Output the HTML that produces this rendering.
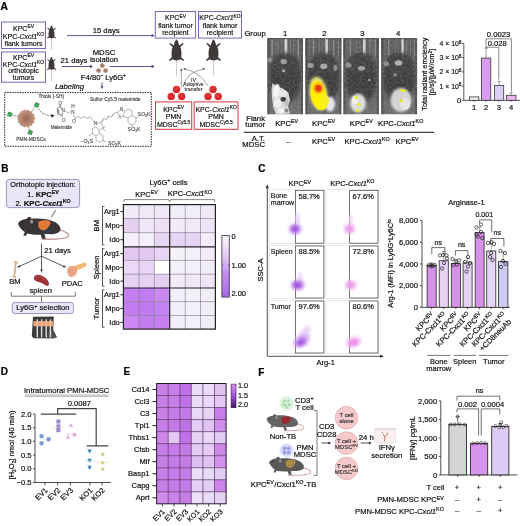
<!DOCTYPE html>
<html><head><meta charset="utf-8"><style>
html,body{margin:0;padding:0;background:#fff;width:520px;height:526px;overflow:hidden}
svg{display:block}
text{font-family:"Liberation Sans",Arial,Helvetica,sans-serif}
text:not([fill]){fill:#111;stroke:#111;stroke-width:0.2px}
</style></head><body>
<svg width="520" height="526" viewBox="0 0 520 526">
<rect width="520" height="526" fill="#fff"/>
<text x="0.5" y="9.6" font-size="10.3" font-weight="bold" fill="#000" stroke="#000" stroke-width="0.200">A</text>
<rect x="1.5" y="22" width="44" height="26.5" fill="white" stroke="#7a68b4" stroke-width="1"/>
<text x="23.5" y="31" font-size="7.0" text-anchor="middle" fill="#111" stroke="#111" stroke-width="0.173">KPC<tspan dy="-2.8" font-size="0.7em">EV</tspan></text>
<text x="23.5" y="38.6" font-size="7.0" text-anchor="middle" fill="#111" stroke="#111" stroke-width="0.173">KPC-<tspan font-style="italic">Cxcl1</tspan><tspan dy="-2.8" font-size="0.7em">KO</tspan></text>
<text x="23.5" y="46" font-size="7.0" text-anchor="middle" fill="#111" stroke="#111" stroke-width="0.173">flank tumors</text>
<rect x="1.5" y="52" width="44" height="30.2" fill="white" stroke="#7a68b4" stroke-width="1"/>
<text x="23.5" y="60.2" font-size="7.0" text-anchor="middle" fill="#111" stroke="#111" stroke-width="0.173">KPC<tspan dy="-2.8" font-size="0.7em">EV</tspan></text>
<text x="23.5" y="66.9" font-size="7.0" text-anchor="middle" fill="#111" stroke="#111" stroke-width="0.173">KPC-<tspan font-style="italic">Cxcl1</tspan><tspan dy="-2.8" font-size="0.7em">KO</tspan></text>
<text x="23.5" y="73.1" font-size="7.0" text-anchor="middle" fill="#111" stroke="#111" stroke-width="0.173">orthotopic</text>
<text x="23.5" y="79.6" font-size="7.0" text-anchor="middle" fill="#111" stroke="#111" stroke-width="0.173">tumors</text>
<g transform="translate(51.5,25.6) scale(0.6)"><path d="M0,20 C0.3,26 -0.3,32.0 0,40" stroke="#c4c0c0" stroke-width="1.6" fill="none"/><path d="M0,0 C0.9,0.2 1.8,2.5 2.3,4.5 L2.6,6 L6.4,3.6 L7.3,4.3 L3.9,7.6 C4.9,10 5.2,14 4.7,17.8 L7.6,20.6 L7,21.6 L3.6,19.8 C2.6,21.3 -2.6,21.3 -3.6,19.8 L-7,21.6 L-7.6,20.6 L-4.7,17.8 C-5.2,14 -4.9,10 -3.9,7.6 L-7.3,4.3 L-6.4,3.6 L-2.6,6 L-2.3,4.5 C-1.8,2.5 -0.9,0.2 0,0 Z" fill="#3d3836"/></g>
<g transform="translate(51.5,57) scale(0.6)"><path d="M0,20 C0.3,26 -0.3,32.0 0,40" stroke="#c4c0c0" stroke-width="1.6" fill="none"/><path d="M0,0 C0.9,0.2 1.8,2.5 2.3,4.5 L2.6,6 L6.4,3.6 L7.3,4.3 L3.9,7.6 C4.9,10 5.2,14 4.7,17.8 L7.6,20.6 L7,21.6 L3.6,19.8 C2.6,21.3 -2.6,21.3 -3.6,19.8 L-7,21.6 L-7.6,20.6 L-4.7,17.8 C-5.2,14 -4.9,10 -3.9,7.6 L-7.3,4.3 L-6.4,3.6 L-2.6,6 L-2.3,4.5 C-1.8,2.5 -0.9,0.2 0,0 Z" fill="#3d3836"/></g>
<line x1="67" y1="35.6" x2="152.79999999999998" y2="35.6" stroke="#4a4080" stroke-width="0.9"/>
<path d="M154.6,35.6 L151.6,33.95 L151.6,37.25 Z" fill="#4a4080"/>
<text x="92.7" y="33.1" font-size="7.7" fill="#111" stroke="#111" stroke-width="0.200">15 days</text>
<line x1="62" y1="66.5" x2="91.2" y2="66.5" stroke="#4a4080" stroke-width="0.9"/>
<path d="M93,66.5 L90,64.85 L90,68.15 Z" fill="#4a4080"/>
<text x="60.5" y="62.6" font-size="7.7" fill="#111" stroke="#111" stroke-width="0.200">21 days</text>
<text x="104" y="54.6" font-size="7.7" text-anchor="middle" fill="#111" stroke="#111" stroke-width="0.200">MDSC</text>
<text x="104" y="61.9" font-size="7.7" text-anchor="middle" fill="#111" stroke="#111" stroke-width="0.200">isolation</text>
<circle cx="102.3" cy="65.6" r="2.4" fill="#b08a78"/>
<circle cx="102.3" cy="65.6" r="1.1" fill="#9a6e5c"/>
<circle cx="98.6" cy="70.6" r="2.4" fill="#b08a78"/>
<circle cx="98.6" cy="70.6" r="1.1" fill="#9a6e5c"/>
<circle cx="105.6" cy="70.6" r="2.4" fill="#b08a78"/>
<circle cx="105.6" cy="70.6" r="1.1" fill="#9a6e5c"/>
<line x1="110" y1="66.5" x2="152.79999999999998" y2="66.5" stroke="#4a4080" stroke-width="0.9"/>
<path d="M154.6,66.5 L151.6,64.85 L151.6,68.15 Z" fill="#4a4080"/>
<text x="80.8" y="79.6" font-size="7.7" fill="#111" stroke="#111" stroke-width="0.200">F4/80<tspan dy="-2.8" font-size="0.6em">–</tspan><tspan dy="2.8"> Ly6G</tspan><tspan dy="-2.8" font-size="0.6em">+</tspan></text>
<line x1="102" y1="82.7" x2="102" y2="86.5" stroke="#4a4080" stroke-width="0.9"/>
<path d="M102,89 L100.5,86.2 L103.5,86.2 Z" fill="#4a4080"/>
<text x="55" y="88.8" font-size="7.7" font-style="italic" fill="#111" stroke="#111" stroke-width="0.200">Labeling</text>
<rect x="4.7" y="92.6" width="146.6" height="53.7" fill="none" stroke="#1a1a1a" stroke-width="0.95" stroke-dasharray="1.5,1.0"/>
<defs><radialGradient id="cellg" cx="0.5" cy="0.5" r="0.5"><stop offset="0" stop-color="#9c6450"/><stop offset="0.55" stop-color="#b58470"/><stop offset="1" stop-color="#c59a88"/></radialGradient><radialGradient id="redc" cx="0.45" cy="0.4" r="0.6"><stop offset="0" stop-color="#f24a4a"/><stop offset="1" stop-color="#d41c24"/></radialGradient><filter id="b1" x="-50%" y="-50%" width="200%" height="200%"><feGaussianBlur stdDeviation="1"/></filter><filter id="b2" x="-50%" y="-50%" width="200%" height="200%"><feGaussianBlur stdDeviation="2"/></filter><filter id="b05" x="-50%" y="-50%" width="200%" height="200%"><feGaussianBlur stdDeviation="0.5"/></filter><filter id="b15" x="-50%" y="-50%" width="200%" height="200%"><feGaussianBlur stdDeviation="1.5"/></filter></defs>
<line x1="26.2" y1="118.5" x2="9.8" y2="114.4" stroke="#8a8a8a" stroke-width="0.7"/>
<line x1="26.2" y1="118.5" x2="36.8" y2="105" stroke="#8a8a8a" stroke-width="0.7"/>
<line x1="26.2" y1="118.5" x2="30.2" y2="132.4" stroke="#8a8a8a" stroke-width="0.7"/>
<polygon points="35.40,118.50 34.19,120.32 34.49,122.49 32.61,123.61 31.94,125.69 29.76,125.89 28.25,127.47 26.20,126.70 24.15,127.47 22.64,125.89 20.46,125.69 19.79,123.61 17.91,122.49 18.21,120.32 17.00,118.50 18.21,116.68 17.91,114.51 19.79,113.39 20.46,111.31 22.64,111.11 24.15,109.53 26.20,110.30 28.25,109.53 29.76,111.11 31.94,111.31 32.61,113.39 34.49,114.51 34.19,116.68" fill="url(#cellg)"/>
<rect x="7.9" y="112.5" width="3.8" height="3.8" fill="#44b060" stroke="#24703a" stroke-width="0.5" transform="rotate(20 9.8 114.4)"/>
<rect x="34.9" y="103.1" width="3.8" height="3.8" fill="#44b060" stroke="#24703a" stroke-width="0.5" transform="rotate(20 36.8 105)"/>
<rect x="28.3" y="130.5" width="3.8" height="3.8" fill="#44b060" stroke="#24703a" stroke-width="0.5" transform="rotate(20 30.2 132.4)"/>
<text x="16.3" y="141.4" font-size="4.9" fill="#333" stroke="#333" stroke-width="0.102">PMN-MDSCs</text>
<text x="38.4" y="98" font-size="4.8" fill="#333" stroke="#333" stroke-width="0.098">Thiols (-SH)</text>
<path d="M38.5,109 Q42,115 52,115.6" fill="none" stroke="#333" stroke-width="0.8" stroke-dasharray="1.5,1.2"/>
<path d="M54.5,115.7 L51.3,114 L51.3,117.4 Z" fill="#111"/>
<text x="50.7" y="129.1" font-size="4.7" fill="#333" stroke="#333" stroke-width="0.095">Maleimide</text>
<text x="90" y="101.4" font-size="4.9" fill="#333" stroke="#333" stroke-width="0.102">Sulfur Cy5.5 maleimide</text>
<path d="M62.3,109.2 L60.3,106.2 L57.4,108.6 L57.8,114 L61.8,115.5 L62.6,112.6 M58.5,109.3 L58.8,113.3 M60.3,106.2 L60.3,105 M61.8,115.5 L62.6,117.2" fill="none" stroke="#555" stroke-width="0.75"/>
<text x="60.2" y="104.6" font-size="4.6" text-anchor="middle" fill="#444" stroke="#444" stroke-width="0.092">O</text>
<text x="63.1" y="112.3" font-size="4.6" text-anchor="middle" fill="#444" stroke="#444" stroke-width="0.092">N</text>
<text x="63.8" y="121.8" font-size="4.6" text-anchor="middle" fill="#444" stroke="#444" stroke-width="0.092">O</text>
<path d="M65,111 L68,113 L70.5,111.5" fill="none" stroke="#777" stroke-width="0.55"/>
<text x="72.9" y="108.3" font-size="4.6" text-anchor="middle" fill="#444" stroke="#444" stroke-width="0.092">H</text>
<text x="72.9" y="114.4" font-size="4.6" text-anchor="middle" fill="#444" stroke="#444" stroke-width="0.092">N</text>
<path d="M73.5,115 L75,118.5 L74.2,119.5" fill="none" stroke="#777" stroke-width="0.55"/>
<text x="74" y="123" font-size="4.6" text-anchor="middle" fill="#444" stroke="#444" stroke-width="0.092">O</text>
<path d="M75,118.5 L78,116.5 L81,118.5 L84,116.5 L87,118.5 L90,116.8 L93,120.5 L95,122.2" fill="none" stroke="#777" stroke-width="0.55"/>
<text x="95.4" y="125.2" font-size="4.6" text-anchor="middle" fill="#444" stroke="#444" stroke-width="0.092">N</text>
<path d="M96.8,123.6 L101.3,122.4 L103.1,127.8 L99,130.2 L96,126.5" fill="none" stroke="#777" stroke-width="0.55"/>
<path d="M96,126.5 L92.5,128.5 L92.5,133.5 L96,135.8 L99.5,133.5 L99,130.2" fill="none" stroke="#777" stroke-width="0.55"/>
<path d="M96,135.8 L96,140.2 L99.5,142.3 L103,140.2 L103,135.6 L99.5,133.5" fill="none" stroke="#777" stroke-width="0.55"/>
<path d="M103.1,127.8 L105.5,126.5 M103.1,127.8 L104.5,131" fill="none" stroke="#777" stroke-width="0.55"/>
<path d="M92.5,133.5 L89,136" fill="none" stroke="#777" stroke-width="0.55"/>
<text x="80.5" y="142.8" font-size="5.3" fill="#444" stroke="#444" stroke-width="0.114"><tspan>–O</tspan><tspan dy="1.2" font-size="0.62em">3</tspan><tspan dy="-1.2">​</tspan><tspan>S</tspan></text>
<path d="M103,140.2 L106,142" fill="none" stroke="#777" stroke-width="0.55"/>
<text x="107.9" y="144.5" font-size="5.3" fill="#444" stroke="#444" stroke-width="0.114">SO<tspan dy="1.2" font-size="0.62em">3</tspan><tspan dy="-1.2">​</tspan>K</text>
<path d="M101.3,122.4 L103.5,118.5 L106.5,119.5 L108.5,116 L111.5,117 L113.5,113.5 L117.4,112.3" fill="none" stroke="#777" stroke-width="0.55"/>
<path d="M102.3,121.5 L104,119.3 M107,118.7 L108.8,117 M111.8,116.2 L113.6,114.3" fill="none" stroke="#777" stroke-width="0.55"/>
<text x="121.6" y="110.5" font-size="4.6" text-anchor="middle" fill="#444" stroke="#444" stroke-width="0.092">N</text>
<path d="M117.4,112.3 L120.2,110 M117.4,112.3 L119.5,116 L123.5,116.5 L124.5,111.5 L123,109.5" fill="none" stroke="#777" stroke-width="0.55"/>
<path d="M119.5,116 L118.5,118.5 M119.5,116 L121.5,119" fill="none" stroke="#777" stroke-width="0.55"/>
<path d="M124.5,111.5 L128,109 L132,110.5 L132,115.5 L128,117.8 L123.5,116.5" fill="none" stroke="#777" stroke-width="0.55"/>
<path d="M132,115.5 L136,117.8 L136,122.5 L132,124.8 L128,122.5 L128,117.8" fill="none" stroke="#777" stroke-width="0.55"/>
<path d="M136,117.8 L138,116.5" fill="none" stroke="#777" stroke-width="0.55"/>
<text x="137.6" y="115.8" font-size="5.3" fill="#444" stroke="#444" stroke-width="0.114">SO<tspan dy="1.2" font-size="0.62em">3</tspan><tspan dy="-1.2">​</tspan>K</text>
<path d="M132,124.8 L132,127" fill="none" stroke="#777" stroke-width="0.55"/>
<text x="127.6" y="130.8" font-size="5.3" fill="#444" stroke="#444" stroke-width="0.114">SO<tspan dy="1.2" font-size="0.62em">3</tspan><tspan dy="-1.2">​</tspan>K</text>
<rect x="155.3" y="11.5" width="40.3" height="26.6" fill="white" stroke="#7a68b4" stroke-width="1"/>
<text x="175.45" y="20.3" font-size="7.0" text-anchor="middle" fill="#111" stroke="#111" stroke-width="0.173">KPC<tspan dy="-2.8" font-size="0.7em">EV</tspan></text>
<text x="175.45" y="27.8" font-size="7.0" text-anchor="middle" fill="#111" stroke="#111" stroke-width="0.173">flank tumor</text>
<text x="175.45" y="35.3" font-size="7.0" text-anchor="middle" fill="#111" stroke="#111" stroke-width="0.173">recipient</text>
<rect x="198.5" y="11.5" width="43" height="26.6" fill="white" stroke="#7a68b4" stroke-width="1"/>
<text x="220" y="20.3" font-size="7.0" text-anchor="middle" fill="#111" stroke="#111" stroke-width="0.173">KPC-<tspan font-style="italic">Cxcl1</tspan><tspan dy="-2.8" font-size="0.7em">KO</tspan></text>
<text x="220" y="27.8" font-size="7.0" text-anchor="middle" fill="#111" stroke="#111" stroke-width="0.173">flank tumor</text>
<text x="220" y="35.3" font-size="7.0" text-anchor="middle" fill="#111" stroke="#111" stroke-width="0.173">recipient</text>
<g transform="translate(176.5,39.5) scale(1.0)"><path d="M0,20 C0.3,26 -0.3,29.6 0,36" stroke="#c4c0c0" stroke-width="0.9" fill="none"/><path d="M0,0 C0.9,0.2 1.8,2.5 2.3,4.5 L2.6,6 L6.4,3.6 L7.3,4.3 L3.9,7.6 C4.9,10 5.2,14 4.7,17.8 L7.6,20.6 L7,21.6 L3.6,19.8 C2.6,21.3 -2.6,21.3 -3.6,19.8 L-7,21.6 L-7.6,20.6 L-4.7,17.8 C-5.2,14 -4.9,10 -3.9,7.6 L-7.3,4.3 L-6.4,3.6 L-2.6,6 L-2.3,4.5 C-1.8,2.5 -0.9,0.2 0,0 Z" fill="#3f3a38"/></g>
<g transform="translate(213.5,39.5) scale(1.0)"><path d="M0,20 C0.3,26 -0.3,29.6 0,36" stroke="#c4c0c0" stroke-width="0.9" fill="none"/><path d="M0,0 C0.9,0.2 1.8,2.5 2.3,4.5 L2.6,6 L6.4,3.6 L7.3,4.3 L3.9,7.6 C4.9,10 5.2,14 4.7,17.8 L7.6,20.6 L7,21.6 L3.6,19.8 C2.6,21.3 -2.6,21.3 -3.6,19.8 L-7,21.6 L-7.6,20.6 L-4.7,17.8 C-5.2,14 -4.9,10 -3.9,7.6 L-7.3,4.3 L-6.4,3.6 L-2.6,6 L-2.3,4.5 C-1.8,2.5 -0.9,0.2 0,0 Z" fill="#3f3a38"/></g>
<path d="M181.3,87 L181.3,70" fill="none" stroke="#666" stroke-width="0.6"/>
<path d="M181.3,68 L180.1,71 L182.5,71 Z" fill="#666"/>
<path d="M183,87 Q186,72 204,69" fill="none" stroke="#666" stroke-width="0.6"/>
<path d="M205.5,68.7 L202.5,67.6 L203,70.3 Z" fill="#666"/>
<path d="M208,86 Q200,72 184.5,69" fill="none" stroke="#666" stroke-width="0.6"/>
<path d="M183,68.7 L186,67.8 L185.6,70.4 Z" fill="#666"/>
<text x="193.5" y="81.6" font-size="5.3" text-anchor="middle" fill="#333" stroke="#333" stroke-width="0.114">IV</text>
<text x="193.5" y="86.3" font-size="5.3" text-anchor="middle" fill="#333" stroke="#333" stroke-width="0.114">Adoptive</text>
<text x="193.5" y="90.6" font-size="5.3" text-anchor="middle" fill="#333" stroke="#333" stroke-width="0.114">transfer</text>
<circle cx="176.5" cy="89.4" r="3.7" fill="url(#redc)"/>
<circle cx="176.5" cy="89.4" r="1.5" fill="none" stroke="#c01820" stroke-width="0.5"/>
<circle cx="171.2" cy="96.4" r="3.7" fill="url(#redc)"/>
<circle cx="171.2" cy="96.4" r="1.5" fill="none" stroke="#c01820" stroke-width="0.5"/>
<circle cx="181.6" cy="96.4" r="3.7" fill="url(#redc)"/>
<circle cx="181.6" cy="96.4" r="1.5" fill="none" stroke="#c01820" stroke-width="0.5"/>
<circle cx="213" cy="89.4" r="3.7" fill="url(#redc)"/>
<circle cx="213" cy="89.4" r="1.5" fill="none" stroke="#c01820" stroke-width="0.5"/>
<circle cx="208" cy="96.4" r="3.7" fill="url(#redc)"/>
<circle cx="208" cy="96.4" r="1.5" fill="none" stroke="#c01820" stroke-width="0.5"/>
<circle cx="218.2" cy="96.4" r="3.7" fill="url(#redc)"/>
<circle cx="218.2" cy="96.4" r="1.5" fill="none" stroke="#c01820" stroke-width="0.5"/>
<rect x="155.5" y="101.9" width="36.2" height="27.4" fill="white" stroke="#d7373f" stroke-width="1"/>
<text x="173.6" y="111.6" font-size="7.0" text-anchor="middle" fill="#111" stroke="#111" stroke-width="0.173">KPC<tspan dy="-2.8" font-size="0.7em">EV</tspan></text>
<text x="173.6" y="119.2" font-size="7.0" text-anchor="middle" fill="#111" stroke="#111" stroke-width="0.173">PMN</text>
<text x="173.6" y="126.6" font-size="7.0" text-anchor="middle" fill="#111" stroke="#111" stroke-width="0.173">MDSC<tspan dy="-2.8" font-size="0.7em">Cy5.5</tspan></text>
<rect x="194.2" y="101.9" width="43.8" height="27.4" fill="white" stroke="#d7373f" stroke-width="1"/>
<text x="216.1" y="111.6" font-size="7.0" text-anchor="middle" fill="#111" stroke="#111" stroke-width="0.173">KPC-<tspan font-style="italic">Cxcl1</tspan><tspan dy="-2.8" font-size="0.7em">KO</tspan></text>
<text x="216.1" y="119.2" font-size="7.0" text-anchor="middle" fill="#111" stroke="#111" stroke-width="0.173">PMN</text>
<text x="216.1" y="126.6" font-size="7.0" text-anchor="middle" fill="#111" stroke="#111" stroke-width="0.173">MDSC<tspan dy="-2.8" font-size="0.7em">Cy5.5</tspan></text>
<text x="244.4" y="36.3" font-size="7.7" fill="#111" stroke="#111" stroke-width="0.200">Group</text>
<text x="285.1" y="36.4" font-size="7.7" text-anchor="middle" fill="#111" stroke="#111" stroke-width="0.200">1</text>
<text x="324.3" y="36.4" font-size="7.7" text-anchor="middle" fill="#111" stroke="#111" stroke-width="0.200">2</text>
<text x="362.4" y="36.4" font-size="7.7" text-anchor="middle" fill="#111" stroke="#111" stroke-width="0.200">3</text>
<text x="398.2" y="36.4" font-size="7.7" text-anchor="middle" fill="#111" stroke="#111" stroke-width="0.200">4</text>
<filter id="nz" x="0" y="0" width="100%" height="100%"><feTurbulence type="fractalNoise" baseFrequency="0.45" numOctaves="2" seed="7"/><feColorMatrix type="matrix" values="0 0 0 0 0.5  0 0 0 0 0.5  0 0 0 0 0.5  0 0 0 1.4 -0.35"/></filter>
<clipPath id="ci0"><rect x="267.3" y="38.2" width="35.8" height="76.2"/></clipPath>
<g clip-path="url(#ci0)">
<rect x="267.3" y="38.2" width="35.8" height="76.2" fill="#686868"/>
<rect x="267.3" y="38.2" width="35.8" height="19" fill="#5a5a5a"/>
<rect x="271.40000000000003" y="38.2" width="1.4" height="18.5" fill="#8c8c8c" filter="url(#b05)"/>
<rect x="274.8" y="38.2" width="0.8" height="18.5" fill="#6e6e6e" filter="url(#b05)"/>
<rect x="277.5" y="38.2" width="1.2" height="18.5" fill="#7a7a7a" filter="url(#b05)"/>
<rect x="280.8" y="38.2" width="0.8" height="18.5" fill="#6c6c6c" filter="url(#b05)"/>
<rect x="284.5" y="38.2" width="2.8" height="18.5" fill="#d4d4d4" filter="url(#b05)"/>
<rect x="289.8" y="38.2" width="1.1" height="18.5" fill="#7e7e7e" filter="url(#b05)"/>
<rect x="293.3" y="38.2" width="0.8" height="18.5" fill="#6e6e6e" filter="url(#b05)"/>
<rect x="297.5" y="38.2" width="1.4" height="18.5" fill="#8e8e8e" filter="url(#b05)"/>
<ellipse cx="285.2" cy="78.2" rx="16.825999999999997" ry="25" fill="#383838" filter="url(#b2)"/>
<ellipse cx="285.2" cy="64.2" rx="13.604" ry="10" fill="#3a3a3a" filter="url(#b2)"/>
<rect x="267.3" y="38.2" width="35.8" height="1.0" fill="#3a3a3a"/>
<rect x="267.3" y="38.2" width="2.2" height="76.2" fill="#4a4a4a" filter="url(#b05)"/>
<rect x="300.90000000000003" y="38.2" width="2.2" height="76.2" fill="#4e4e4e" filter="url(#b05)"/>
<ellipse cx="269.8" cy="60" rx="2.5" ry="2.2" fill="#8a8a8a" filter="url(#b05)"/>
<ellipse cx="283.7" cy="61.6" rx="3.2" ry="2.6" fill="#9a9a9a" filter="url(#b05)"/>
<ellipse cx="283.7" cy="70.8" rx="1.6" ry="1.6" fill="#aaaaaa" filter="url(#b05)"/>
<rect x="267.3" y="38.2" width="35.8" height="76.2" fill="#000" filter="url(#nz)" opacity="0.3"/>
</g>
<clipPath id="ci1"><rect x="305.3" y="38.2" width="36.2" height="76.2"/></clipPath>
<g clip-path="url(#ci1)">
<rect x="305.3" y="38.2" width="36.2" height="76.2" fill="#686868"/>
<rect x="305.3" y="38.2" width="36.2" height="19" fill="#5a5a5a"/>
<rect x="308.8" y="38.2" width="0.8" height="18.5" fill="#6e6e6e" filter="url(#b05)"/>
<rect x="312.8" y="38.2" width="1.3" height="18.5" fill="#8a8a8a" filter="url(#b05)"/>
<rect x="318.8" y="38.2" width="1.1" height="18.5" fill="#747474" filter="url(#b05)"/>
<rect x="321.8" y="38.2" width="0.8" height="18.5" fill="#6a6a6a" filter="url(#b05)"/>
<rect x="325.3" y="38.2" width="2.6" height="18.5" fill="#d0d0d0" filter="url(#b05)"/>
<rect x="329.3" y="38.2" width="0.8" height="18.5" fill="#6e6e6e" filter="url(#b05)"/>
<rect x="333.0" y="38.2" width="1.3" height="18.5" fill="#888888" filter="url(#b05)"/>
<rect x="338.3" y="38.2" width="1.2" height="18.5" fill="#8a8a8a" filter="url(#b05)"/>
<ellipse cx="323.40000000000003" cy="78.2" rx="17.014" ry="25" fill="#383838" filter="url(#b2)"/>
<ellipse cx="323.40000000000003" cy="64.2" rx="13.756000000000002" ry="10" fill="#3a3a3a" filter="url(#b2)"/>
<rect x="305.3" y="38.2" width="36.2" height="1.0" fill="#3a3a3a"/>
<rect x="305.3" y="38.2" width="2.2" height="76.2" fill="#4a4a4a" filter="url(#b05)"/>
<rect x="339.3" y="38.2" width="2.2" height="76.2" fill="#4e4e4e" filter="url(#b05)"/>
<ellipse cx="310.7" cy="65.5" rx="3" ry="2.4" fill="#9a9a9a" filter="url(#b05)"/>
<ellipse cx="323.8" cy="66.2" rx="3.6" ry="2.8" fill="#a8a8a8" filter="url(#b05)"/>
<ellipse cx="335.3" cy="68" rx="2" ry="3" fill="#8a8a8a" filter="url(#b05)"/>
<rect x="305.3" y="38.2" width="36.2" height="76.2" fill="#000" filter="url(#nz)" opacity="0.3"/>
</g>
<clipPath id="ci2"><rect x="343.3" y="38.2" width="35.6" height="76.2"/></clipPath>
<g clip-path="url(#ci2)">
<rect x="343.3" y="38.2" width="35.6" height="76.2" fill="#686868"/>
<rect x="343.3" y="38.2" width="35.6" height="19" fill="#5a5a5a"/>
<rect x="346.5" y="38.2" width="0.8" height="18.5" fill="#6e6e6e" filter="url(#b05)"/>
<rect x="349.8" y="38.2" width="1.3" height="18.5" fill="#8a8a8a" filter="url(#b05)"/>
<rect x="355.8" y="38.2" width="1.1" height="18.5" fill="#747474" filter="url(#b05)"/>
<rect x="359.3" y="38.2" width="0.8" height="18.5" fill="#6a6a6a" filter="url(#b05)"/>
<rect x="363.0" y="38.2" width="2.6" height="18.5" fill="#d6d6d6" filter="url(#b05)"/>
<rect x="369.3" y="38.2" width="1.1" height="18.5" fill="#7a7a7a" filter="url(#b05)"/>
<rect x="371.8" y="38.2" width="0.8" height="18.5" fill="#6c6c6c" filter="url(#b05)"/>
<rect x="374.6" y="38.2" width="1.3" height="18.5" fill="#8a8a8a" filter="url(#b05)"/>
<ellipse cx="361.1" cy="78.2" rx="16.732" ry="25" fill="#383838" filter="url(#b2)"/>
<ellipse cx="361.1" cy="64.2" rx="13.528" ry="10" fill="#3a3a3a" filter="url(#b2)"/>
<rect x="343.3" y="38.2" width="35.6" height="1.0" fill="#3a3a3a"/>
<rect x="343.3" y="38.2" width="2.2" height="76.2" fill="#4a4a4a" filter="url(#b05)"/>
<rect x="376.70000000000005" y="38.2" width="2.2" height="76.2" fill="#4e4e4e" filter="url(#b05)"/>
<ellipse cx="348.5" cy="65.2" rx="3" ry="2.6" fill="#8e8e8e" filter="url(#b05)"/>
<ellipse cx="361.5" cy="68.3" rx="3.6" ry="2.4" fill="#a0a0a0" filter="url(#b05)"/>
<ellipse cx="369.3" cy="80" rx="1.2" ry="1.2" fill="#9a9a9a" filter="url(#b05)"/>
<rect x="343.3" y="38.2" width="35.6" height="76.2" fill="#000" filter="url(#nz)" opacity="0.3"/>
</g>
<clipPath id="ci3"><rect x="381.2" y="38.2" width="36.0" height="76.2"/></clipPath>
<g clip-path="url(#ci3)">
<rect x="381.2" y="38.2" width="36.0" height="76.2" fill="#686868"/>
<rect x="381.2" y="38.2" width="36.0" height="19" fill="#5a5a5a"/>
<rect x="384.4" y="38.2" width="0.8" height="18.5" fill="#6e6e6e" filter="url(#b05)"/>
<rect x="388.09999999999997" y="38.2" width="1.2" height="18.5" fill="#8e8e8e" filter="url(#b05)"/>
<rect x="395.4" y="38.2" width="0.9" height="18.5" fill="#747474" filter="url(#b05)"/>
<rect x="398.2" y="38.2" width="0.8" height="18.5" fill="#6a6a6a" filter="url(#b05)"/>
<rect x="401.4" y="38.2" width="2.4" height="18.5" fill="#d2d2d2" filter="url(#b05)"/>
<rect x="405.9" y="38.2" width="1.0" height="18.5" fill="#7a7a7a" filter="url(#b05)"/>
<rect x="410.2" y="38.2" width="0.8" height="18.5" fill="#6c6c6c" filter="url(#b05)"/>
<rect x="414.3" y="38.2" width="1.2" height="18.5" fill="#8a8a8a" filter="url(#b05)"/>
<ellipse cx="399.2" cy="78.2" rx="16.919999999999998" ry="25" fill="#383838" filter="url(#b2)"/>
<ellipse cx="399.2" cy="64.2" rx="13.68" ry="10" fill="#3a3a3a" filter="url(#b2)"/>
<rect x="381.2" y="38.2" width="36.0" height="1.0" fill="#3a3a3a"/>
<rect x="381.2" y="38.2" width="2.2" height="76.2" fill="#4a4a4a" filter="url(#b05)"/>
<rect x="415.0" y="38.2" width="2.2" height="76.2" fill="#4e4e4e" filter="url(#b05)"/>
<ellipse cx="386.2" cy="63.7" rx="3" ry="2.5" fill="#8a8a8a" filter="url(#b05)"/>
<ellipse cx="398.5" cy="62.9" rx="3.8" ry="2.6" fill="#b0b0b0" filter="url(#b05)"/>
<ellipse cx="395.2" cy="75" rx="2" ry="2" fill="#7a7a7a" filter="url(#b05)"/>
<rect x="381.2" y="38.2" width="36.0" height="76.2" fill="#000" filter="url(#nz)" opacity="0.3"/>
</g>
<g clip-path="url(#ci0)" filter="url(#b05)"><path d="M272.5,83 L276,86 L283,88.5 L288.5,93 L290,100 L288,106 L290,113.5 L276,114.5 L273.5,108 L272,98 L271.5,90 Z" fill="#d6d6d6"/></g>
<g clip-path="url(#ci0)"><ellipse cx="276.5" cy="91" rx="3.2" ry="7" fill="#f6f6f6" opacity="1" filter="url(#b05)" transform="rotate(8 276.5 91)"/></g>
<g clip-path="url(#ci0)"><ellipse cx="283" cy="93.5" rx="4.5" ry="3.2" fill="#e8e8e8" opacity="1" filter="url(#b05)" transform="rotate(0 283 93.5)"/></g>
<g clip-path="url(#ci0)"><ellipse cx="277.5" cy="103" rx="3.8" ry="5" fill="#eeeeee" opacity="1" filter="url(#b05)" transform="rotate(0 277.5 103)"/></g>
<g clip-path="url(#ci0)"><ellipse cx="283.3" cy="99.3" rx="2.8" ry="2.4" fill="#404040" opacity="1" filter="url(#b05)" transform="rotate(0 283.3 99.3)"/></g>
<g clip-path="url(#ci0)"><ellipse cx="286.5" cy="103" rx="2" ry="3" fill="#bdbdbd" opacity="1" filter="url(#b05)" transform="rotate(0 286.5 103)"/></g>
<g clip-path="url(#ci0)"><ellipse cx="281" cy="110.5" rx="3.5" ry="2.8" fill="#f0f0f0" opacity="1" filter="url(#b05)" transform="rotate(0 281 110.5)"/></g>
<g clip-path="url(#ci0)"><ellipse cx="286.5" cy="110.5" rx="2" ry="2" fill="#8a8a8a" opacity="1" filter="url(#b05)" transform="rotate(0 286.5 110.5)"/></g>
<g clip-path="url(#ci1)"><ellipse cx="330" cy="104" rx="5" ry="7.5" fill="#e6e6f0" opacity="1" filter="url(#b1)" transform="rotate(0 330 104)"/></g>
<g clip-path="url(#ci1)"><ellipse cx="318.5" cy="93.5" rx="9" ry="17" fill="#f4ee80" opacity="0.9" filter="url(#b1)" transform="rotate(-10 318.5 93.5)"/></g>
<g clip-path="url(#ci1)"><ellipse cx="318.6" cy="95" rx="7.6" ry="14.5" fill="#fff000" opacity="1" filter="url(#b05)" transform="rotate(-10 318.6 95)"/></g>
<g clip-path="url(#ci1)"><ellipse cx="321.5" cy="103" rx="6.5" ry="7" fill="#fff200" opacity="1" filter="url(#b05)" transform="rotate(0 321.5 103)"/></g>
<g clip-path="url(#ci1)"><ellipse cx="325" cy="101" rx="4" ry="6" fill="#f8f020" opacity="1" filter="url(#b05)" transform="rotate(0 325 101)"/></g>
<g clip-path="url(#ci1)"><ellipse cx="318.4" cy="88.1" rx="5.2" ry="5.4" fill="#f5a020" opacity="1" filter="url(#b1)" transform="rotate(0 318.4 88.1)"/></g>
<g clip-path="url(#ci1)"><ellipse cx="318.4" cy="88.3" rx="3.2" ry="3.4" fill="#ec3c10" opacity="1" filter="url(#b05)" transform="rotate(0 318.4 88.3)"/></g>
<g clip-path="url(#ci2)"><ellipse cx="358" cy="103" rx="8" ry="9.5" fill="#dedede" opacity="1" filter="url(#b1)" transform="rotate(0 358 103)"/></g>
<g clip-path="url(#ci2)"><ellipse cx="355" cy="100" rx="3" ry="4" fill="#f0f0f0" opacity="1" filter="url(#b05)" transform="rotate(0 355 100)"/></g>
<g clip-path="url(#ci2)"><ellipse cx="356.2" cy="97.5" rx="1.5" ry="1.5" fill="#f0f000" opacity="1" filter="url(#b05)" transform="rotate(0 356.2 97.5)"/></g>
<g clip-path="url(#ci2)"><ellipse cx="359.2" cy="104.5" rx="1.7" ry="1.7" fill="#f0f000" opacity="1" filter="url(#b05)" transform="rotate(0 359.2 104.5)"/></g>
<g clip-path="url(#ci2)"><ellipse cx="357.7" cy="110.6" rx="1.6" ry="1.3" fill="#f0f000" opacity="1" filter="url(#b05)" transform="rotate(0 357.7 110.6)"/></g>
<g clip-path="url(#ci3)"><ellipse cx="401" cy="100" rx="10.5" ry="12" fill="#d4d4d4" opacity="1" filter="url(#b1)" transform="rotate(0 401 100)"/></g>
<g clip-path="url(#ci3)"><ellipse cx="405" cy="104" rx="5" ry="6" fill="#e6e6e6" opacity="1" filter="url(#b05)" transform="rotate(0 405 104)"/></g>
<g clip-path="url(#ci3)"><ellipse cx="403" cy="90.6" rx="3" ry="1.2" fill="#f0f000" opacity="1" filter="url(#b05)" transform="rotate(0 403 90.6)"/></g>
<g clip-path="url(#ci3)"><ellipse cx="401.5" cy="100.6" rx="1.5" ry="1.5" fill="#e0e020" opacity="1" filter="url(#b05)" transform="rotate(0 401.5 100.6)"/></g>
<text x="265" y="120.6" font-size="7.7" text-anchor="end" fill="#111" stroke="#111" stroke-width="0.200">Flank</text>
<text x="265" y="127" font-size="7.7" text-anchor="end" fill="#111" stroke="#111" stroke-width="0.200">tumor</text>
<text x="275.2" y="125.5" font-size="7.7" fill="#111" stroke="#111" stroke-width="0.200">KPC<tspan dy="-2.8" font-size="0.7em">EV</tspan></text>
<text x="312.1" y="125.5" font-size="7.7" fill="#111" stroke="#111" stroke-width="0.200">KPC<tspan dy="-2.8" font-size="0.7em">EV</tspan></text>
<text x="349.8" y="125.5" font-size="7.7" fill="#111" stroke="#111" stroke-width="0.200">KPC<tspan dy="-2.8" font-size="0.7em">EV</tspan></text>
<text x="378" y="125.5" font-size="7.7" fill="#111" stroke="#111" stroke-width="0.200">KPC-<tspan font-style="italic">Cxcl1</tspan><tspan dy="-2.8" font-size="0.7em">KO</tspan></text>
<line x1="243.8" y1="132.3" x2="434.1" y2="132.3" stroke="#111" stroke-width="1"/>
<text x="265" y="140.6" font-size="7.7" text-anchor="end" fill="#111" stroke="#111" stroke-width="0.200">A.T.</text>
<text x="265" y="147.3" font-size="7.7" text-anchor="end" fill="#111" stroke="#111" stroke-width="0.200">MDSC</text>
<text x="288.1" y="143.8" font-size="7.7" text-anchor="middle" fill="#111" stroke="#111" stroke-width="0.200">–</text>
<text x="312.1" y="143.8" font-size="7.7" fill="#111" stroke="#111" stroke-width="0.200">KPC<tspan dy="-2.8" font-size="0.7em">EV</tspan></text>
<text x="344.4" y="143.8" font-size="7.7" fill="#111" stroke="#111" stroke-width="0.200">KPC-<tspan font-style="italic">Cxcl1</tspan><tspan dy="-2.8" font-size="0.7em">KO</tspan></text>
<text x="395.6" y="143.8" font-size="7.7" fill="#111" stroke="#111" stroke-width="0.200">KPC<tspan dy="-2.8" font-size="0.7em">EV</tspan></text>
<line x1="463.8" y1="43.5" x2="463.8" y2="100.5" stroke="#333" stroke-width="0.8"/>
<line x1="463.8" y1="100.3" x2="520" y2="100.3" stroke="#333" stroke-width="0.8"/>
<line x1="461.8" y1="100.3" x2="463.8" y2="100.3" stroke="#333" stroke-width="0.8"/>
<text x="461" y="102.89999999999999" font-size="7.4" text-anchor="end" fill="#111" stroke="#111" stroke-width="0.188">0</text>
<line x1="461.8" y1="86.1" x2="463.8" y2="86.1" stroke="#333" stroke-width="0.8"/>
<text x="461.5" y="88.5" font-size="6.9" text-anchor="end" fill="#111" stroke="#111" stroke-width="0.170">1 × 10<tspan dy="-2.4" font-size="0.7em">8</tspan></text>
<line x1="461.8" y1="71.9" x2="463.8" y2="71.9" stroke="#333" stroke-width="0.8"/>
<text x="461.5" y="74.30000000000001" font-size="6.9" text-anchor="end" fill="#111" stroke="#111" stroke-width="0.170">2 × 10<tspan dy="-2.4" font-size="0.7em">8</tspan></text>
<line x1="461.8" y1="57.7" x2="463.8" y2="57.7" stroke="#333" stroke-width="0.8"/>
<text x="461.5" y="60.1" font-size="6.9" text-anchor="end" fill="#111" stroke="#111" stroke-width="0.170">3 × 10<tspan dy="-2.4" font-size="0.7em">8</tspan></text>
<line x1="461.8" y1="43.5" x2="463.8" y2="43.5" stroke="#333" stroke-width="0.8"/>
<text x="461.5" y="45.9" font-size="6.9" text-anchor="end" fill="#111" stroke="#111" stroke-width="0.170">4 × 10<tspan dy="-2.4" font-size="0.7em">8</tspan></text>
<text transform="translate(427.4,74.2) rotate(-90)" font-size="7.35" text-anchor="middle">Total radiant emciency</text>
<text transform="translate(434.0,72) rotate(-90)" font-size="7.5" text-anchor="middle">[p/s]/[µW/cm<tspan dy="-2" font-size="0.65em">2</tspan><tspan dy="2">]</tspan></text>
<rect x="469.4" y="96.9" width="9.400000000000034" height="3.3999999999999915" fill="#f4eef8" stroke="#3a3a3a" stroke-width="0.8"/>
<line x1="486.1" y1="58.1" x2="486.1" y2="48.2" stroke="#555" stroke-width="0.6"/>
<line x1="484.5" y1="48.2" x2="487.70000000000005" y2="48.2" stroke="#555" stroke-width="0.6"/>
<rect x="481.4" y="58.1" width="9.400000000000034" height="42.199999999999996" fill="#d89cee" stroke="#3a3a3a" stroke-width="0.8"/>
<line x1="499.1" y1="85.5" x2="499.1" y2="81.3" stroke="#555" stroke-width="0.6"/>
<line x1="497.5" y1="81.3" x2="500.70000000000005" y2="81.3" stroke="#555" stroke-width="0.6"/>
<rect x="494.5" y="85.5" width="9.199999999999989" height="14.799999999999997" fill="#dccdf4" stroke="#3a3a3a" stroke-width="0.8"/>
<line x1="511.2" y1="95.3" x2="511.2" y2="92.6" stroke="#555" stroke-width="0.6"/>
<line x1="509.59999999999997" y1="92.6" x2="512.8" y2="92.6" stroke="#555" stroke-width="0.6"/>
<rect x="506.5" y="95.3" width="9.399999999999977" height="5.0" fill="#ecb4f0" stroke="#3a3a3a" stroke-width="0.8"/>
<line x1="474" y1="100.3" x2="474" y2="102" stroke="#333" stroke-width="0.7"/>
<text x="474" y="109.8" font-size="7.6" text-anchor="middle" fill="#111" stroke="#111" stroke-width="0.196">1</text>
<line x1="486.2" y1="100.3" x2="486.2" y2="102" stroke="#333" stroke-width="0.7"/>
<text x="486.2" y="109.8" font-size="7.6" text-anchor="middle" fill="#111" stroke="#111" stroke-width="0.196">2</text>
<line x1="498.8" y1="100.3" x2="498.8" y2="102" stroke="#333" stroke-width="0.7"/>
<text x="498.8" y="109.8" font-size="7.6" text-anchor="middle" fill="#111" stroke="#111" stroke-width="0.196">3</text>
<line x1="511.2" y1="100.3" x2="511.2" y2="102" stroke="#333" stroke-width="0.7"/>
<text x="511.2" y="109.8" font-size="7.6" text-anchor="middle" fill="#111" stroke="#111" stroke-width="0.196">4</text>
<path d="M486,48 L486,38.8 L511.4,38.8 L511.4,91.5" fill="none" stroke="#555" stroke-width="0.7"/>
<path d="M486,47.3 L498.8,47.3 L498.8,79.5" fill="none" stroke="#555" stroke-width="0.7"/>
<text x="498.5" y="37" font-size="7.7" text-anchor="middle" fill="#111" stroke="#111" stroke-width="0.200">0.0023</text>
<text x="497.3" y="45.6" font-size="7.6" text-anchor="middle" fill="#111" stroke="#111" stroke-width="0.196">0.028</text>
<text x="1.2" y="172.3" font-size="10.0" font-weight="bold" fill="#000" stroke="#000" stroke-width="0.200">B</text>
<rect x="6.4" y="179.4" width="73.2" height="28.2" fill="#e9e6f8" stroke="#8e88bc" stroke-width="0.9" rx="3"/>
<text x="43" y="186.9" font-size="7.4" text-anchor="middle" fill="#111" stroke="#111" stroke-width="0.188">Orthotopic injection:</text>
<text x="43" y="196.6" font-size="7.6" text-anchor="middle" fill="#111" stroke="#111" stroke-width="0.196">1. <tspan font-weight="bold">KPC<tspan dy="-2.8" font-size="0.7em">EV</tspan></tspan></text>
<text x="43" y="205.6" font-size="7.6" text-anchor="middle" fill="#111" stroke="#111" stroke-width="0.196">2. <tspan font-weight="bold">KPC-<tspan font-style="italic">Cxcl1</tspan><tspan dy="-2.8" font-size="0.7em">KO</tspan></tspan></text>
<line x1="55.8" y1="210.2" x2="51.2" y2="217.1" stroke="#9a9a9a" stroke-width="1.4"/>
<g transform="translate(18.3,222.9) scale(1.0)"><path d="M41,7 C46,8 52,11 50,13.5 C48,16 36,16.5 23,16.3" fill="none" stroke="#c49494" stroke-width="1.3"/><path d="M0,0 C1,-2 4,-3.5 8,-4 L10.5,-6.2 L12.5,-5.6 L13,-4.2 C18,-4.8 28,-4.6 34,-2 C40,0 43,4 42,7.5 C41,10 36,11.5 30,11.2 L26,11.4 L27.5,15.5 L24,16 L22.5,11.8 C18,12 12,11.5 9,10.5 L7.5,12.8 L5,12.8 L6.5,9.2 C4,7.5 1.5,4.5 0.5,2.5 C-0.3,1.5 -0.3,0.6 0,0 Z" fill="#3a3434"/><path d="M24,6 C28,7 32,7 34,5 C34,9 30,11 26,11 C24,10 23.5,8 24,6 Z" fill="#34404e"/><circle cx="4.2" cy="-0.6" r="0.7" fill="#111"/><ellipse cx="13.3" cy="-1.2" rx="1.6" ry="1.9" fill="#9a9696"/><path d="M20,-1 C23,-3 30,-3.2 32,-1.5 C33,1 30,5 27,7 C24,8 21,6.5 20,4 Z" fill="#e07838"/></g>
<line x1="41.5" y1="243.5" x2="41.5" y2="256.2" stroke="#333" stroke-width="0.8"/>
<text x="44.2" y="252.8" font-size="7.6" fill="#111" stroke="#111" stroke-width="0.196">21 days</text>
<line x1="41.5" y1="256.2" x2="17.5" y2="267.3" stroke="#333" stroke-width="0.8"/>
<path d="M17.5,267.3 L19.40,264.98 L20.50,267.35 Z" fill="#333"/>
<line x1="41.5" y1="256.2" x2="41.5" y2="272.3" stroke="#333" stroke-width="0.8"/>
<path d="M41.5,272.3 L40.20,269.60 L42.80,269.60 Z" fill="#333"/>
<line x1="41.5" y1="256.2" x2="65.8" y2="267.3" stroke="#333" stroke-width="0.8"/>
<path d="M65.8,267.3 L62.80,267.36 L63.89,264.99 Z" fill="#333"/>
<path d="M15.8,263 L14.3,276" fill="none" stroke="#d4ae8c" stroke-width="1.7"/>
<circle cx="15.1" cy="262.2" r="1.1" fill="#d4ae8c"/>
<circle cx="16.8" cy="262.6" r="1.1" fill="#d4ae8c"/>
<circle cx="13.5" cy="276.6" r="1.0" fill="#d4ae8c"/>
<circle cx="15.1" cy="276.9" r="1.0" fill="#d4ae8c"/>
<text x="15" y="283.8" font-size="7.6" text-anchor="middle" fill="#111" stroke="#111" stroke-width="0.196">BM</text>
<path d="M34,277.5 C34.5,274.5 38.5,274 41.5,275.5 C45,277 48.5,280 49,283.5 C49.2,286 47,286.5 45,285 C42.5,283 38,282 35.5,280.8 C34.3,280 33.8,278.8 34,277.5 Z" fill="#a2303a"/>
<path d="M36,277.5 C39,276.5 43,278 46,281" fill="none" stroke="#c45a60" stroke-width="0.6"/>
<text x="40.7" y="292.6" font-size="7.6" text-anchor="middle" fill="#111" stroke="#111" stroke-width="0.196">spleen</text>
<path d="M72,266.5 C75,265.5 79,264.5 83,263 C85.5,262.2 87.2,263.2 86.5,265 C85.5,267.5 81,268.5 77.5,270 L76,272 Z" fill="#f2b878"/>
<path d="M67.2,271 C67,267.5 69.5,265.8 72.5,266 C75.5,266.3 77.5,268.5 77,272 C76.5,275.5 73.5,277.3 70.5,276.8 C68.3,276.3 67.3,274 67.2,271 Z" fill="#eca283"/>
<path d="M69,272 C70,269.5 72.5,268.8 74.5,270" fill="none" stroke="#d88868" stroke-width="0.5"/>
<text x="72.2" y="285.7" font-size="7.6" text-anchor="middle" fill="#111" stroke="#111" stroke-width="0.196">PDAC</text>
<path d="M11.3,292 L11.3,296.2 L75.3,296.2 L75.3,292 M41.5,296.2 L41.5,302.3" fill="none" stroke="#555" stroke-width="0.8"/>
<rect x="12.2" y="302.4" width="61.4" height="11.2" fill="#e9e6f8" stroke="#8e88bc" stroke-width="0.9" rx="3"/>
<text x="42.9" y="310.3" font-size="7.6" text-anchor="middle" fill="#111" stroke="#111" stroke-width="0.196">Ly6G<tspan dy="-2.4" font-size="0.7em">+</tspan><tspan dy="2.4"> </tspan>selection</text>
<path d="M33,316.8 L53.8,316.6 L53.2,330 L56.8,337.2 L54,338.2 L33.5,338.2 L31.8,336 Z" fill="#3c3c3c"/>
<path d="M49,330 L53.2,330 L56.8,337.2 L54,338.2 L46,338.2 Z" fill="#505050"/>
<rect x="33.6" y="321.2" width="19.2" height="5" fill="#eea078"/>
<rect x="36.599999999999994" y="319.3" width="1.4" height="18.1" fill="#f0f0f4" opacity="0.9"/>
<rect x="40.9" y="319.3" width="1.4" height="18.1" fill="#f0f0f4" opacity="0.9"/>
<rect x="45.5" y="319.3" width="1.4" height="18.1" fill="#f0f0f4" opacity="0.9"/>
<rect x="49.699999999999996" y="319.3" width="1.4" height="18.1" fill="#f0f0f4" opacity="0.9"/>
<rect x="33.6" y="321.2" width="19.2" height="5" fill="#f0a880" opacity="0.75"/>
<rect x="123.4" y="204.6" width="15.599999999999994" height="13.900000000000006" fill="#f2ecf8"/>
<rect x="139.0" y="204.6" width="15.400000000000006" height="13.900000000000006" fill="#f0eaf8"/>
<rect x="154.4" y="204.6" width="15.299999999999983" height="13.900000000000006" fill="#efe6f8"/>
<rect x="169.7" y="204.6" width="15.600000000000023" height="13.900000000000006" fill="#f2eef8"/>
<rect x="185.3" y="204.6" width="15.199999999999989" height="13.900000000000006" fill="#f2eef8"/>
<rect x="200.5" y="204.6" width="14.900000000000006" height="13.900000000000006" fill="#f0eaf8"/>
<rect x="123.4" y="218.5" width="15.599999999999994" height="14.099999999999994" fill="#e6d0f2"/>
<rect x="139.0" y="218.5" width="15.400000000000006" height="14.099999999999994" fill="#f0e8f8"/>
<rect x="154.4" y="218.5" width="15.299999999999983" height="14.099999999999994" fill="#ecdff6"/>
<rect x="169.7" y="218.5" width="15.600000000000023" height="14.099999999999994" fill="#f2ecf8"/>
<rect x="185.3" y="218.5" width="15.199999999999989" height="14.099999999999994" fill="#f0eaf8"/>
<rect x="200.5" y="218.5" width="14.900000000000006" height="14.099999999999994" fill="#eee4f8"/>
<rect x="123.4" y="232.6" width="15.599999999999994" height="14.200000000000017" fill="#f4f0fa"/>
<rect x="139.0" y="232.6" width="15.400000000000006" height="14.200000000000017" fill="#f2eefa"/>
<rect x="154.4" y="232.6" width="15.299999999999983" height="14.200000000000017" fill="#e6d6f4"/>
<rect x="169.7" y="232.6" width="15.600000000000023" height="14.200000000000017" fill="#e6d4f4"/>
<rect x="185.3" y="232.6" width="15.199999999999989" height="14.200000000000017" fill="#e6d4f4"/>
<rect x="200.5" y="232.6" width="14.900000000000006" height="14.200000000000017" fill="#f2ecfa"/>
<rect x="123.4" y="246.8" width="15.599999999999994" height="13.599999999999966" fill="#e2c8f2"/>
<rect x="139.0" y="246.8" width="15.400000000000006" height="13.599999999999966" fill="#e4caf2"/>
<rect x="154.4" y="246.8" width="15.299999999999983" height="13.599999999999966" fill="#e8d4f4"/>
<rect x="169.7" y="246.8" width="15.600000000000023" height="13.599999999999966" fill="#f6f2fa"/>
<rect x="185.3" y="246.8" width="15.199999999999989" height="13.599999999999966" fill="#f4f0fa"/>
<rect x="200.5" y="246.8" width="14.900000000000006" height="13.599999999999966" fill="#f2ecf8"/>
<rect x="123.4" y="260.4" width="15.599999999999994" height="13.800000000000011" fill="#ead8f6"/>
<rect x="139.0" y="260.4" width="15.400000000000006" height="13.800000000000011" fill="#e8d4f4"/>
<rect x="154.4" y="260.4" width="15.299999999999983" height="13.800000000000011" fill="#ffffff"/>
<rect x="169.7" y="260.4" width="15.600000000000023" height="13.800000000000011" fill="#f4f0fa"/>
<rect x="185.3" y="260.4" width="15.199999999999989" height="13.800000000000011" fill="#f4f0fa"/>
<rect x="200.5" y="260.4" width="14.900000000000006" height="13.800000000000011" fill="#f2eef8"/>
<rect x="123.4" y="274.2" width="15.599999999999994" height="13.800000000000011" fill="#e6d0f4"/>
<rect x="139.0" y="274.2" width="15.400000000000006" height="13.800000000000011" fill="#e6d2f4"/>
<rect x="154.4" y="274.2" width="15.299999999999983" height="13.800000000000011" fill="#e4cef4"/>
<rect x="169.7" y="274.2" width="15.600000000000023" height="13.800000000000011" fill="#f2ecf8"/>
<rect x="185.3" y="274.2" width="15.199999999999989" height="13.800000000000011" fill="#f0eaf8"/>
<rect x="200.5" y="274.2" width="14.900000000000006" height="13.800000000000011" fill="#eee6f8"/>
<rect x="123.4" y="288.0" width="15.599999999999994" height="13.600000000000023" fill="#c57ef0"/>
<rect x="139.0" y="288.0" width="15.400000000000006" height="13.600000000000023" fill="#c07cf2"/>
<rect x="154.4" y="288.0" width="15.299999999999983" height="13.600000000000023" fill="#c888f0"/>
<rect x="169.7" y="288.0" width="15.600000000000023" height="13.600000000000023" fill="#f2eefa"/>
<rect x="185.3" y="288.0" width="15.199999999999989" height="13.600000000000023" fill="#f4f0fa"/>
<rect x="200.5" y="288.0" width="14.900000000000006" height="13.600000000000023" fill="#f2eef8"/>
<rect x="123.4" y="301.6" width="15.599999999999994" height="13.899999999999977" fill="#c27cf0"/>
<rect x="139.0" y="301.6" width="15.400000000000006" height="13.899999999999977" fill="#bf7af2"/>
<rect x="154.4" y="301.6" width="15.299999999999983" height="13.899999999999977" fill="#c383f0"/>
<rect x="169.7" y="301.6" width="15.600000000000023" height="13.899999999999977" fill="#f2eefa"/>
<rect x="185.3" y="301.6" width="15.199999999999989" height="13.899999999999977" fill="#f4f0fa"/>
<rect x="200.5" y="301.6" width="14.900000000000006" height="13.899999999999977" fill="#f2eef8"/>
<rect x="123.4" y="315.5" width="15.599999999999994" height="13.600000000000023" fill="#ca88f0"/>
<rect x="139.0" y="315.5" width="15.400000000000006" height="13.600000000000023" fill="#c27cf0"/>
<rect x="154.4" y="315.5" width="15.299999999999983" height="13.600000000000023" fill="#c67ef0"/>
<rect x="169.7" y="315.5" width="15.600000000000023" height="13.600000000000023" fill="#f2eefa"/>
<rect x="185.3" y="315.5" width="15.199999999999989" height="13.600000000000023" fill="#f4f0fa"/>
<rect x="200.5" y="315.5" width="14.900000000000006" height="13.600000000000023" fill="#f2eef8"/>
<line x1="139.0" y1="204.6" x2="139.0" y2="329.1" stroke="#7a7480" stroke-width="0.6"/>
<line x1="154.4" y1="204.6" x2="154.4" y2="329.1" stroke="#7a7480" stroke-width="0.6"/>
<line x1="185.3" y1="204.6" x2="185.3" y2="329.1" stroke="#7a7480" stroke-width="0.6"/>
<line x1="200.5" y1="204.6" x2="200.5" y2="329.1" stroke="#7a7480" stroke-width="0.6"/>
<line x1="123.4" y1="218.5" x2="215.4" y2="218.5" stroke="#7a7480" stroke-width="0.6"/>
<line x1="123.4" y1="232.6" x2="215.4" y2="232.6" stroke="#7a7480" stroke-width="0.6"/>
<line x1="123.4" y1="260.4" x2="215.4" y2="260.4" stroke="#7a7480" stroke-width="0.6"/>
<line x1="123.4" y1="274.2" x2="215.4" y2="274.2" stroke="#7a7480" stroke-width="0.6"/>
<line x1="123.4" y1="301.6" x2="215.4" y2="301.6" stroke="#7a7480" stroke-width="0.6"/>
<line x1="123.4" y1="315.5" x2="215.4" y2="315.5" stroke="#7a7480" stroke-width="0.6"/>
<line x1="123.4" y1="246.8" x2="215.4" y2="246.8" stroke="#222" stroke-width="1.2"/>
<line x1="123.4" y1="288.0" x2="215.4" y2="288.0" stroke="#222" stroke-width="1.2"/>
<line x1="169.7" y1="204.6" x2="169.7" y2="329.1" stroke="#222" stroke-width="1.2"/>
<rect x="123.4" y="204.6" width="92.0" height="124.50000000000003" fill="none" stroke="#222" stroke-width="1.2"/>
<text x="119.8" y="214.05" font-size="7.5" text-anchor="end" fill="#111" stroke="#111" stroke-width="0.192">Arg1</text>
<line x1="120.4" y1="211.55" x2="123.4" y2="211.55" stroke="#222" stroke-width="1.0"/>
<text x="119.8" y="228.05" font-size="7.5" text-anchor="end" fill="#111" stroke="#111" stroke-width="0.192">Mpo</text>
<line x1="120.4" y1="225.55" x2="123.4" y2="225.55" stroke="#222" stroke-width="1.0"/>
<text x="119.8" y="242.2" font-size="7.5" text-anchor="end" fill="#111" stroke="#111" stroke-width="0.192">Ido</text>
<line x1="120.4" y1="239.7" x2="123.4" y2="239.7" stroke="#222" stroke-width="1.0"/>
<text x="119.8" y="256.1" font-size="7.5" text-anchor="end" fill="#111" stroke="#111" stroke-width="0.192">Arg1</text>
<line x1="120.4" y1="253.6" x2="123.4" y2="253.6" stroke="#222" stroke-width="1.0"/>
<text x="119.8" y="269.79999999999995" font-size="7.5" text-anchor="end" fill="#111" stroke="#111" stroke-width="0.192">Mpo</text>
<line x1="120.4" y1="267.29999999999995" x2="123.4" y2="267.29999999999995" stroke="#222" stroke-width="1.0"/>
<text x="119.8" y="283.6" font-size="7.5" text-anchor="end" fill="#111" stroke="#111" stroke-width="0.192">Ido</text>
<line x1="120.4" y1="281.1" x2="123.4" y2="281.1" stroke="#222" stroke-width="1.0"/>
<text x="119.8" y="297.3" font-size="7.5" text-anchor="end" fill="#111" stroke="#111" stroke-width="0.192">Arg1</text>
<line x1="120.4" y1="294.8" x2="123.4" y2="294.8" stroke="#222" stroke-width="1.0"/>
<text x="119.8" y="311.05" font-size="7.5" text-anchor="end" fill="#111" stroke="#111" stroke-width="0.192">Mpo</text>
<line x1="120.4" y1="308.55" x2="123.4" y2="308.55" stroke="#222" stroke-width="1.0"/>
<text x="119.8" y="324.8" font-size="7.5" text-anchor="end" fill="#111" stroke="#111" stroke-width="0.192">Ido</text>
<line x1="120.4" y1="322.3" x2="123.4" y2="322.3" stroke="#222" stroke-width="1.0"/>
<path d="M104.5,206.4 L102.5,206.4 L102.5,245.0 L104.5,245.0" fill="none" stroke="#444" stroke-width="0.9"/>
<text transform="translate(98.6,225.7) rotate(-90)" font-size="7.6" text-anchor="middle">BM</text>
<path d="M104.5,248.60000000000002 L102.5,248.60000000000002 L102.5,286.2 L104.5,286.2" fill="none" stroke="#444" stroke-width="0.9"/>
<text transform="translate(98.6,267.4) rotate(-90)" font-size="7.6" text-anchor="middle">Spleen</text>
<path d="M104.5,289.8 L102.5,289.8 L102.5,327.3 L104.5,327.3" fill="none" stroke="#444" stroke-width="0.9"/>
<text transform="translate(98.6,308.55) rotate(-90)" font-size="7.6" text-anchor="middle">Tumor</text>
<text x="168.5" y="184.8" font-size="7.5" text-anchor="middle" fill="#111" stroke="#111" stroke-width="0.192">Ly6G<tspan dy="-2.4" font-size="0.7em">+</tspan><tspan dy="2.4"> </tspan>cells</text>
<text x="146.5" y="196.6" font-size="7.5" text-anchor="middle" fill="#111" stroke="#111" stroke-width="0.192">KPC<tspan dy="-2.8" font-size="0.7em">EV</tspan></text>
<text x="190" y="196.4" font-size="7.5" text-anchor="middle" fill="#111" stroke="#111" stroke-width="0.192">KPC-<tspan font-style="italic">Cxcl1</tspan><tspan dy="-2.8" font-size="0.7em">KO</tspan></text>
<path d="M124,202 L124,199.6 L168.5,199.6 L169.6,201.8 L170.7,199.6 L214.5,199.6 L214.5,202" fill="none" stroke="#555" stroke-width="0.7"/>
<linearGradient id="cbB" x1="0" y1="0" x2="0" y2="1"><stop offset="0" stop-color="#fbf8fd"/><stop offset="0.35" stop-color="#e2c8f4"/><stop offset="0.6" stop-color="#c590f0"/><stop offset="1" stop-color="#a866e8"/></linearGradient>
<rect x="221.9" y="235.6" width="7.4" height="61.5" fill="url(#cbB)" stroke="#4a4050" stroke-width="0.9"/>
<line x1="221.9" y1="264.9" x2="223.2" y2="264.9" stroke="#4a4050" stroke-width="0.8"/>
<line x1="228" y1="264.9" x2="229.3" y2="264.9" stroke="#4a4050" stroke-width="0.8"/>
<line x1="221.9" y1="293.3" x2="223.2" y2="293.3" stroke="#4a4050" stroke-width="0.8"/>
<line x1="228" y1="293.3" x2="229.3" y2="293.3" stroke="#4a4050" stroke-width="0.8"/>
<text x="231.4" y="239.1" font-size="7.5" fill="#111" stroke="#111" stroke-width="0.192">0</text>
<text x="231.4" y="267.59999999999997" font-size="7.5" fill="#111" stroke="#111" stroke-width="0.192">1.00</text>
<text x="231.4" y="296.0" font-size="7.5" fill="#111" stroke="#111" stroke-width="0.192">2.00</text>
<text x="258.3" y="172.3" font-size="10.0" font-weight="bold" fill="#000" stroke="#000" stroke-width="0.200">C</text>
<line x1="267.3" y1="187" x2="267.3" y2="356.3" stroke="#222" stroke-width="0.8"/>
<path d="M267.3,184.2 L265.8,188.2 L268.8,188.2 Z" fill="#222"/>
<line x1="267.3" y1="356.3" x2="381" y2="356.3" stroke="#222" stroke-width="0.8"/>
<path d="M384,356.3 L380,354.8 L380,357.8 Z" fill="#222"/>
<text transform="translate(263.2,270) rotate(-90)" font-size="7.5" text-anchor="middle">SSC-A</text>
<text x="325.7" y="365" font-size="7.5" text-anchor="middle" fill="#111" stroke="#111" stroke-width="0.192">Arg-1</text>
<text x="299.8" y="186.3" font-size="7.5" text-anchor="middle" fill="#111" stroke="#111" stroke-width="0.192">KPC<tspan dy="-2.8" font-size="0.7em">EV</tspan></text>
<text x="352.3" y="185.6" font-size="7.5" text-anchor="middle" fill="#111" stroke="#111" stroke-width="0.192">KPC-<tspan font-style="italic">Cxcl1</tspan><tspan dy="-2.8" font-size="0.7em">KO</tspan></text>
<rect x="269.5" y="189.6" width="54.4" height="54.0" fill="none" stroke="#dcdcdc" stroke-width="0.6"/>
<rect x="326" y="189.6" width="52.2" height="54.0" fill="none" stroke="#dcdcdc" stroke-width="0.6"/>
<rect x="295.5" y="190.4" width="28.4" height="52.8" fill="none" stroke="#555" stroke-width="0.8"/>
<rect x="349.6" y="190.4" width="28.4" height="52.8" fill="none" stroke="#555" stroke-width="0.8"/>
<text x="270.8" y="197.9" font-size="7.0" fill="#111" stroke="#111" stroke-width="0.173">Bone</text>
<text x="270.8" y="204.79999999999998" font-size="7.0" fill="#111" stroke="#111" stroke-width="0.173">marrow</text>
<text x="298.5" y="198.6" font-size="7.5" fill="#111" stroke="#111" stroke-width="0.192">58.7%</text>
<text x="352.6" y="198.6" font-size="7.5" fill="#111" stroke="#111" stroke-width="0.192">67.6%</text>
<rect x="269.5" y="245.2" width="54.4" height="53.19999999999999" fill="none" stroke="#dcdcdc" stroke-width="0.6"/>
<rect x="326" y="245.2" width="52.2" height="53.19999999999999" fill="none" stroke="#dcdcdc" stroke-width="0.6"/>
<rect x="295.5" y="246.0" width="28.4" height="51.999999999999986" fill="none" stroke="#555" stroke-width="0.8"/>
<rect x="349.6" y="246.0" width="28.4" height="51.999999999999986" fill="none" stroke="#555" stroke-width="0.8"/>
<text x="270.8" y="253.5" font-size="7.0" fill="#111" stroke="#111" stroke-width="0.173">Spleen</text>
<text x="298.5" y="254.2" font-size="7.5" fill="#111" stroke="#111" stroke-width="0.192">88.5%</text>
<text x="352.6" y="254.2" font-size="7.5" fill="#111" stroke="#111" stroke-width="0.192">72.8%</text>
<rect x="269.5" y="300.2" width="54.4" height="53.19999999999999" fill="none" stroke="#dcdcdc" stroke-width="0.6"/>
<rect x="326" y="300.2" width="52.2" height="53.19999999999999" fill="none" stroke="#dcdcdc" stroke-width="0.6"/>
<rect x="295.5" y="301.0" width="28.4" height="51.999999999999986" fill="none" stroke="#555" stroke-width="0.8"/>
<rect x="349.6" y="301.0" width="28.4" height="51.999999999999986" fill="none" stroke="#555" stroke-width="0.8"/>
<text x="270.8" y="308.5" font-size="7.0" fill="#111" stroke="#111" stroke-width="0.173">Tumor</text>
<text x="298.5" y="309.2" font-size="7.5" fill="#111" stroke="#111" stroke-width="0.192">97.6%</text>
<text x="352.6" y="309.2" font-size="7.5" fill="#111" stroke="#111" stroke-width="0.192">80.6%</text>
<ellipse cx="297.5" cy="219" rx="2.5" ry="7" fill="#ecd6f6" opacity="0.9" filter="url(#b1)"/>
<ellipse cx="295.2" cy="229" rx="6.5" ry="5.5" fill="#c890ec" opacity="0.8" filter="url(#b15)"/>
<ellipse cx="295" cy="229" rx="4" ry="3.4" fill="#a458e2" opacity="0.8" filter="url(#b1)"/>
<ellipse cx="294.8" cy="229.2" rx="2" ry="1.8" fill="#9848dc" opacity="0.5" filter="url(#b05)"/>
<ellipse cx="351" cy="220" rx="2.2" ry="6" fill="#f6dcf6" opacity="0.9" filter="url(#b1)"/>
<ellipse cx="349.5" cy="229" rx="6" ry="5" fill="#f0b4ee" opacity="0.8" filter="url(#b15)"/>
<ellipse cx="349.3" cy="229" rx="3.6" ry="3.2" fill="#ec98ec" opacity="0.8" filter="url(#b1)"/>
<ellipse cx="300" cy="278" rx="3" ry="6" fill="#ecd6f6" opacity="0.8" filter="url(#b1)"/>
<ellipse cx="297.8" cy="285" rx="7" ry="5.5" fill="#c890ec" opacity="0.8" filter="url(#b15)"/>
<ellipse cx="297.5" cy="285" rx="4.4" ry="3.6" fill="#a458e2" opacity="0.8" filter="url(#b1)"/>
<ellipse cx="297" cy="285.3" rx="2.2" ry="1.9" fill="#9848dc" opacity="0.5" filter="url(#b05)"/>
<ellipse cx="350.8" cy="285" rx="6" ry="5" fill="#f0b4ee" opacity="0.8" filter="url(#b15)"/>
<ellipse cx="350.6" cy="285" rx="3.6" ry="3.2" fill="#ec98ec" opacity="0.8" filter="url(#b1)"/>
<ellipse cx="304.5" cy="334" rx="4.5" ry="9.5" fill="#e6cef6" opacity="0.85" filter="url(#b15)" transform="rotate(30 304.5 334)"/>
<ellipse cx="301.5" cy="341" rx="9" ry="6" fill="#d2a4f2" opacity="0.8" filter="url(#b15)" transform="rotate(-30 301.5 341)"/>
<ellipse cx="301" cy="342" rx="5.5" ry="3.8" fill="#b06ae8" opacity="0.85" filter="url(#b1)" transform="rotate(-30 301 342)"/>
<ellipse cx="300.5" cy="342.5" rx="2.6" ry="1.8" fill="#9848dc" opacity="0.5" filter="url(#b05)" transform="rotate(-30 300.5 342.5)"/>
<ellipse cx="353.5" cy="342" rx="8" ry="5.5" fill="#f4bcf2" opacity="0.8" filter="url(#b15)" transform="rotate(-15 353.5 342)"/>
<ellipse cx="353.5" cy="342.5" rx="4.8" ry="3.3" fill="#ec8aec" opacity="0.9" filter="url(#b1)" transform="rotate(-15 353.5 342.5)"/>
<line x1="422.0" y1="220.6" x2="422.0" y2="307.3" stroke="#222" stroke-width="0.8"/>
<line x1="422.0" y1="307.3" x2="510" y2="307.3" stroke="#222" stroke-width="0.8"/>
<line x1="420.0" y1="307.3" x2="422.0" y2="307.3" stroke="#222" stroke-width="0.8"/>
<text x="418.0" y="309.90000000000003" font-size="7.6" text-anchor="end" fill="#111" stroke="#111" stroke-width="0.196">0</text>
<line x1="420.0" y1="285.625" x2="422.0" y2="285.625" stroke="#222" stroke-width="0.8"/>
<text x="418.0" y="288.225" font-size="7.6" text-anchor="end" fill="#111" stroke="#111" stroke-width="0.196">2,000</text>
<line x1="420.0" y1="263.95" x2="422.0" y2="263.95" stroke="#222" stroke-width="0.8"/>
<text x="418.0" y="266.55" font-size="7.6" text-anchor="end" fill="#111" stroke="#111" stroke-width="0.196">4,000</text>
<line x1="420.0" y1="242.275" x2="422.0" y2="242.275" stroke="#222" stroke-width="0.8"/>
<text x="418.0" y="244.875" font-size="7.6" text-anchor="end" fill="#111" stroke="#111" stroke-width="0.196">6,000</text>
<line x1="420.0" y1="220.6" x2="422.0" y2="220.6" stroke="#222" stroke-width="0.8"/>
<text x="418.0" y="223.2" font-size="7.6" text-anchor="end" fill="#111" stroke="#111" stroke-width="0.196">8,000</text>
<text transform="translate(393.4,263.5) rotate(-90)" font-size="7.4" text-anchor="middle">Arg-1 (MFI) in Ly6G<tspan dy="-2.3" font-size="0.65em">+</tspan><tspan dy="2.3">Ly6C</tspan><tspan dy="-2.3" font-size="0.65em">lo</tspan></text>
<text x="466.5" y="204.5" font-size="7.5" text-anchor="middle" fill="#111" stroke="#111" stroke-width="0.192">Arginase-1</text>
<rect x="427.1" y="265.358875" width="9.099999999999966" height="41.941125" fill="#d590e8" stroke="#2a2a2a" stroke-width="0.8"/>
<line x1="431.65" y1="307.3" x2="431.65" y2="309.3" stroke="#222" stroke-width="0.7"/>
<rect x="439.2" y="260.69875" width="9.100000000000023" height="46.60124999999999" fill="#e6d2f4" stroke="#2a2a2a" stroke-width="0.8"/>
<line x1="443.75" y1="307.3" x2="443.75" y2="309.3" stroke="#222" stroke-width="0.7"/>
<rect x="451.3" y="263.408125" width="9.099999999999966" height="43.89187500000003" fill="#d590e8" stroke="#2a2a2a" stroke-width="0.8"/>
<line x1="455.85" y1="307.3" x2="455.85" y2="309.3" stroke="#222" stroke-width="0.7"/>
<rect x="463.1" y="262.86625000000004" width="9.0" height="44.433749999999975" fill="#e6d2f4" stroke="#2a2a2a" stroke-width="0.8"/>
<line x1="467.6" y1="307.3" x2="467.6" y2="309.3" stroke="#222" stroke-width="0.7"/>
<rect x="475.2" y="232.52125" width="8.900000000000034" height="74.77875" fill="#d590e8" stroke="#2a2a2a" stroke-width="0.8"/>
<line x1="479.65" y1="307.3" x2="479.65" y2="309.3" stroke="#222" stroke-width="0.7"/>
<rect x="486.7" y="250.945" width="9.100000000000023" height="56.35500000000002" fill="#e6d2f4" stroke="#2a2a2a" stroke-width="0.8"/>
<line x1="491.25" y1="307.3" x2="491.25" y2="309.3" stroke="#222" stroke-width="0.7"/>
<rect x="498.4" y="261.56575" width="9.5" height="45.73425000000003" fill="#cdccf4" stroke="#2a2a2a" stroke-width="0.8"/>
<line x1="503.15" y1="307.3" x2="503.15" y2="309.3" stroke="#222" stroke-width="0.7"/>
<line x1="431.65" y1="265.358875" x2="431.65" y2="262.8" stroke="#666" stroke-width="0.6"/>
<line x1="429.84999999999997" y1="262.8" x2="433.45" y2="262.8" stroke="#666" stroke-width="0.6"/>
<circle cx="428.65" cy="265.3" r="1.65" fill="none" stroke="#1a1a1a" stroke-width="0.7"/>
<circle cx="430.65" cy="264.8" r="1.65" fill="none" stroke="#1a1a1a" stroke-width="0.7"/>
<circle cx="432.65" cy="265.6" r="1.65" fill="none" stroke="#1a1a1a" stroke-width="0.7"/>
<circle cx="434.65" cy="265" r="1.65" fill="none" stroke="#1a1a1a" stroke-width="0.7"/>
<circle cx="431.65" cy="266.4" r="1.65" fill="none" stroke="#1a1a1a" stroke-width="0.7"/>
<line x1="443.75" y1="260.69875" x2="443.75" y2="251.5" stroke="#666" stroke-width="0.6"/>
<line x1="441.95" y1="251.5" x2="445.55" y2="251.5" stroke="#666" stroke-width="0.6"/>
<circle cx="440.05" cy="255.4" r="1.65" fill="none" stroke="#1a1a1a" stroke-width="0.7"/>
<circle cx="443.05" cy="255" r="1.65" fill="none" stroke="#1a1a1a" stroke-width="0.7"/>
<circle cx="446.55" cy="255.4" r="1.65" fill="none" stroke="#1a1a1a" stroke-width="0.7"/>
<circle cx="442.05" cy="268.5" r="1.65" fill="none" stroke="#1a1a1a" stroke-width="0.7"/>
<circle cx="444.05" cy="263" r="1.65" fill="none" stroke="#1a1a1a" stroke-width="0.7"/>
<circle cx="447.05" cy="258.5" r="1.65" fill="none" stroke="#1a1a1a" stroke-width="0.7"/>
<line x1="455.85" y1="263.408125" x2="455.85" y2="259.5" stroke="#666" stroke-width="0.6"/>
<line x1="454.05" y1="259.5" x2="457.65000000000003" y2="259.5" stroke="#666" stroke-width="0.6"/>
<circle cx="452.55" cy="259" r="1.65" fill="none" stroke="#1a1a1a" stroke-width="0.7"/>
<circle cx="456.05" cy="261.5" r="1.65" fill="none" stroke="#1a1a1a" stroke-width="0.7"/>
<circle cx="459.05" cy="260.5" r="1.65" fill="none" stroke="#1a1a1a" stroke-width="0.7"/>
<circle cx="453.55" cy="265" r="1.65" fill="none" stroke="#1a1a1a" stroke-width="0.7"/>
<circle cx="457.05" cy="264.5" r="1.65" fill="none" stroke="#1a1a1a" stroke-width="0.7"/>
<line x1="467.6" y1="262.86625000000004" x2="467.6" y2="258" stroke="#666" stroke-width="0.6"/>
<line x1="465.8" y1="258" x2="469.40000000000003" y2="258" stroke="#666" stroke-width="0.6"/>
<circle cx="468.0" cy="257" r="1.65" fill="none" stroke="#1a1a1a" stroke-width="0.7"/>
<circle cx="465.0" cy="262" r="1.65" fill="none" stroke="#1a1a1a" stroke-width="0.7"/>
<circle cx="470.0" cy="263" r="1.65" fill="none" stroke="#1a1a1a" stroke-width="0.7"/>
<circle cx="466.5" cy="271.5" r="1.65" fill="none" stroke="#1a1a1a" stroke-width="0.7"/>
<circle cx="468.0" cy="266.5" r="1.65" fill="none" stroke="#1a1a1a" stroke-width="0.7"/>
<line x1="479.65" y1="232.52125" x2="479.65" y2="227" stroke="#666" stroke-width="0.6"/>
<line x1="477.84999999999997" y1="227" x2="481.45" y2="227" stroke="#666" stroke-width="0.6"/>
<circle cx="476.45" cy="227.5" r="1.65" fill="none" stroke="#1a1a1a" stroke-width="0.7"/>
<circle cx="480.95" cy="224.5" r="1.65" fill="none" stroke="#1a1a1a" stroke-width="0.7"/>
<circle cx="477.95" cy="236.5" r="1.65" fill="none" stroke="#1a1a1a" stroke-width="0.7"/>
<circle cx="480.95" cy="232" r="1.65" fill="none" stroke="#1a1a1a" stroke-width="0.7"/>
<circle cx="476.45" cy="234.6" r="1.65" fill="none" stroke="#1a1a1a" stroke-width="0.7"/>
<circle cx="482.25" cy="238" r="1.65" fill="none" stroke="#1a1a1a" stroke-width="0.7"/>
<line x1="491.25" y1="250.945" x2="491.25" y2="244" stroke="#666" stroke-width="0.6"/>
<line x1="489.45" y1="244" x2="493.05" y2="244" stroke="#666" stroke-width="0.6"/>
<circle cx="488.05" cy="243" r="1.65" fill="none" stroke="#1a1a1a" stroke-width="0.7"/>
<circle cx="491.55" cy="242" r="1.65" fill="none" stroke="#1a1a1a" stroke-width="0.7"/>
<circle cx="494.05" cy="244" r="1.65" fill="none" stroke="#1a1a1a" stroke-width="0.7"/>
<circle cx="491.05" cy="253" r="1.65" fill="none" stroke="#1a1a1a" stroke-width="0.7"/>
<circle cx="490.05" cy="257" r="1.65" fill="none" stroke="#1a1a1a" stroke-width="0.7"/>
<circle cx="492.55" cy="260" r="1.65" fill="none" stroke="#1a1a1a" stroke-width="0.7"/>
<line x1="503.15" y1="261.56575" x2="503.15" y2="252" stroke="#666" stroke-width="0.6"/>
<line x1="501.34999999999997" y1="252" x2="504.95" y2="252" stroke="#666" stroke-width="0.6"/>
<circle cx="500.45" cy="251" r="1.65" fill="none" stroke="#1a1a1a" stroke-width="0.7"/>
<circle cx="504.95" cy="253" r="1.65" fill="none" stroke="#1a1a1a" stroke-width="0.7"/>
<circle cx="502.95" cy="261" r="1.65" fill="none" stroke="#1a1a1a" stroke-width="0.7"/>
<circle cx="500.95" cy="267" r="1.65" fill="none" stroke="#1a1a1a" stroke-width="0.7"/>
<circle cx="505.45" cy="264" r="1.65" fill="none" stroke="#1a1a1a" stroke-width="0.7"/>
<path d="M431.8,254.1 L431.8,247.6 L444.9,247.6 L444.9,254.1" fill="none" stroke="#333" stroke-width="0.7"/>
<text x="438.35" y="244.5" font-size="7.1" text-anchor="middle" fill="#111" stroke="#111" stroke-width="0.177">ns</text>
<path d="M455.4,255.6 L455.4,250.6 L467.9,250.6 L467.9,255.6" fill="none" stroke="#333" stroke-width="0.7"/>
<text x="461.65" y="247.2" font-size="7.1" text-anchor="middle" fill="#111" stroke="#111" stroke-width="0.177">ns</text>
<path d="M479.6,222.9 L479.6,219.9 L491.7,219.9 L491.7,232.4" fill="none" stroke="#333" stroke-width="0.7"/>
<text x="484.3" y="216.8" font-size="7.1" text-anchor="middle" fill="#111" stroke="#111" stroke-width="0.177">0.001</text>
<path d="M490.7,244.5 L490.7,238.5 L503.9,238.5 L503.9,246.5" fill="none" stroke="#333" stroke-width="0.7"/>
<text x="497.29999999999995" y="235" font-size="7.1" text-anchor="middle" fill="#111" stroke="#111" stroke-width="0.177">ns</text>
<text transform="translate(434.84999999999997,315.6) rotate(-45)" font-size="7.6" text-anchor="end">KPC<tspan dy="-2.8" font-size="0.7em">EV</tspan></text>
<text transform="translate(446.95,315.6) rotate(-45)" font-size="7.6" text-anchor="end">KPC-Cxcl1<tspan dy="-2.8" font-size="0.7em">KO</tspan></text>
<text transform="translate(459.05,315.6) rotate(-45)" font-size="7.6" text-anchor="end">KPC<tspan dy="-2.8" font-size="0.7em">EV</tspan></text>
<text transform="translate(470.8,315.6) rotate(-45)" font-size="7.6" text-anchor="end">KPC-Cxcl1<tspan dy="-2.8" font-size="0.7em">KO</tspan></text>
<text transform="translate(482.84999999999997,315.6) rotate(-45)" font-size="7.6" text-anchor="end">KPC<tspan dy="-2.8" font-size="0.7em">EV</tspan></text>
<text transform="translate(494.45,315.6) rotate(-45)" font-size="7.6" text-anchor="end">KPC-Cxcl1<tspan dy="-2.8" font-size="0.7em">KO</tspan></text>
<text transform="translate(506.34999999999997,315.6) rotate(-45)" font-size="7.6" text-anchor="end">KPC-Cxcl1<tspan dy="-2.8" font-size="0.7em">KO</tspan></text>
<text transform="translate(511.79999999999995,322.20000000000005) rotate(-45)" font-size="7.6" text-anchor="end">+CD8neuAb</text>
<line x1="427.2" y1="355.4" x2="450.5" y2="355.4" stroke="#555" stroke-width="0.8"/>
<text x="438.8" y="364" font-size="7.5" text-anchor="middle" fill="#111" stroke="#111" stroke-width="0.192">Bone</text>
<line x1="453.7" y1="355.4" x2="475.9" y2="355.4" stroke="#555" stroke-width="0.8"/>
<text x="464.8" y="364" font-size="7.5" text-anchor="middle" fill="#111" stroke="#111" stroke-width="0.192">Spleen</text>
<line x1="479" y1="355.4" x2="508.7" y2="355.4" stroke="#555" stroke-width="0.8"/>
<text x="493.8" y="364" font-size="7.5" text-anchor="middle" fill="#111" stroke="#111" stroke-width="0.192">Tumor</text>
<text x="438.8" y="371.4" font-size="7.5" text-anchor="middle" fill="#111" stroke="#111" stroke-width="0.192">marrow</text>
<text x="0.8" y="375.2" font-size="10.0" font-weight="bold" fill="#000" stroke="#000" stroke-width="0.200">D</text>
<text x="66.7" y="392.5" font-size="7.7" text-anchor="middle" fill="#111" stroke="#111" stroke-width="0.200">Intratumoral PMN-MDSC</text>
<line x1="24.8" y1="395.0" x2="108.6" y2="395.0" stroke="#777" stroke-width="0.55"/>
<line x1="24.8" y1="396.4" x2="108.6" y2="396.4" stroke="#777" stroke-width="0.55"/>
<line x1="35.0" y1="414.0" x2="35.0" y2="482.5" stroke="#222" stroke-width="0.8"/>
<line x1="35.0" y1="482.5" x2="110.8" y2="482.5" stroke="#222" stroke-width="0.8"/>
<line x1="33.0" y1="414.0" x2="35.0" y2="414.0" stroke="#222" stroke-width="0.8"/>
<text x="31.5" y="416.6" font-size="7.6" text-anchor="end" fill="#111" stroke="#111" stroke-width="0.196">2.0</text>
<line x1="33.0" y1="427.70000000000005" x2="35.0" y2="427.70000000000005" stroke="#222" stroke-width="0.8"/>
<text x="31.5" y="430.30000000000007" font-size="7.6" text-anchor="end" fill="#111" stroke="#111" stroke-width="0.196">1.5</text>
<line x1="33.0" y1="441.40000000000003" x2="35.0" y2="441.40000000000003" stroke="#222" stroke-width="0.8"/>
<text x="31.5" y="444.00000000000006" font-size="7.6" text-anchor="end" fill="#111" stroke="#111" stroke-width="0.196">1.0</text>
<line x1="33.0" y1="455.1" x2="35.0" y2="455.1" stroke="#222" stroke-width="0.8"/>
<text x="31.5" y="457.70000000000005" font-size="7.6" text-anchor="end" fill="#111" stroke="#111" stroke-width="0.196">0.5</text>
<line x1="33.0" y1="468.8" x2="35.0" y2="468.8" stroke="#222" stroke-width="0.8"/>
<text x="31.5" y="471.40000000000003" font-size="7.6" text-anchor="end" fill="#111" stroke="#111" stroke-width="0.196">0.0</text>
<line x1="33.0" y1="482.5" x2="35.0" y2="482.5" stroke="#222" stroke-width="0.8"/>
<text x="31.5" y="485.1" font-size="7.6" text-anchor="end" fill="#111" stroke="#111" stroke-width="0.196">−0.5</text>
<text transform="translate(14.3,445) rotate(-90)" font-size="7.5" text-anchor="middle">[H<tspan dy="1.5" font-size="0.65em">2</tspan><tspan dy="-1.5">O</tspan><tspan dy="1.5" font-size="0.65em">2</tspan><tspan dy="-1.5">] nmol (40 min)</tspan></text>
<path d="M40.8,414.1 L76.2,414.1 M57.7,414.1 L57.7,408.6 L96.2,408.6 L96.2,445.8 M86.6,445.8 L108.3,445.8" fill="none" stroke="#444" stroke-width="1.2"/>
<text x="79.3" y="406.3" font-size="7.6" text-anchor="middle" fill="#111" stroke="#111" stroke-width="0.196">0.0087</text>
<circle cx="41.6" cy="436.3" r="2.2" fill="#7a9acc"/>
<circle cx="41.6" cy="443.2" r="2.2" fill="#7a9acc"/>
<circle cx="48.6" cy="439.3" r="2.2" fill="#7a9acc"/>
<line x1="44" y1="439.5" x2="47" y2="439.5" stroke="#c0d0e8" stroke-width="0.6"/>
<rect x="56.4" y="419.5" width="4.0" height="4.0" fill="#9c88d6"/>
<rect x="56.4" y="424.4" width="4.0" height="4.0" fill="#9c88d6"/>
<rect x="56.4" y="428.2" width="4.0" height="4.0" fill="#9c88d6"/>
<line x1="52" y1="427.6" x2="64" y2="427.6" stroke="#f0d890" stroke-width="0.7" stroke-dasharray="1.5,1"/>
<path d="M68.8,427.06 L73.2,427.06 L71,423.1 Z" fill="#e0aede"/>
<path d="M65.89999999999999,438.86 L70.3,438.86 L68.1,434.90000000000003 Z" fill="#e0aede"/>
<circle cx="74.5" cy="434.8" r="2.0" fill="#e0aede"/>
<line x1="67" y1="434.2" x2="75" y2="434.2" stroke="#f0c0c0" stroke-width="0.7"/>
<path d="M87.3,449.46000000000004 L91.89999999999999,449.46000000000004 L89.6,453.6 Z" fill="#3a86ae"/>
<path d="M87.3,458.66 L91.89999999999999,458.66 L89.6,462.8 Z" fill="#3a86ae"/>
<path d="M87.3,465.76000000000005 L91.89999999999999,465.76000000000005 L89.6,469.90000000000003 Z" fill="#3a86ae"/>
<line x1="84" y1="461" x2="95" y2="461" stroke="#a0c8d8" stroke-width="0.7" stroke-dasharray="1.5,1"/>
<circle cx="102.7" cy="454.4" r="1.8" fill="#d6d28a"/>
<circle cx="102.7" cy="462.7" r="1.8" fill="#d6d28a"/>
<circle cx="102.7" cy="469.2" r="1.8" fill="#d6d28a"/>
<line x1="97" y1="462" x2="108" y2="462" stroke="#e8d090" stroke-width="0.7" stroke-dasharray="1.5,1"/>
<line x1="45" y1="482.5" x2="45" y2="485.5" stroke="#222" stroke-width="0.8"/>
<text transform="translate(48.2,490.7) rotate(-45)" font-size="7.5" text-anchor="end">EV1</text>
<line x1="57.7" y1="482.5" x2="57.7" y2="485.5" stroke="#222" stroke-width="0.8"/>
<text transform="translate(60.900000000000006,490.7) rotate(-45)" font-size="7.5" text-anchor="end">EV2</text>
<line x1="70.4" y1="482.5" x2="70.4" y2="485.5" stroke="#222" stroke-width="0.8"/>
<text transform="translate(73.60000000000001,490.7) rotate(-45)" font-size="7.5" text-anchor="end">EV3</text>
<line x1="90" y1="482.5" x2="90" y2="485.5" stroke="#222" stroke-width="0.8"/>
<text transform="translate(93.2,490.7) rotate(-45)" font-size="7.5" text-anchor="end">KO1</text>
<line x1="102" y1="482.5" x2="102" y2="485.5" stroke="#222" stroke-width="0.8"/>
<text transform="translate(105.2,490.7) rotate(-45)" font-size="7.5" text-anchor="end">KO2</text>
<text x="123.6" y="375.4" font-size="10.0" font-weight="bold" fill="#000" stroke="#000" stroke-width="0.200">E</text>
<rect x="156.6" y="383.5" width="11.599999999999994" height="12.029999999999973" fill="#c97fe6"/>
<rect x="168.2" y="383.5" width="11.600000000000023" height="12.029999999999973" fill="#c880e8"/>
<rect x="179.8" y="383.5" width="11.5" height="12.029999999999973" fill="#c070e6"/>
<rect x="191.3" y="383.5" width="11.599999999999994" height="12.029999999999973" fill="#ebdcf6"/>
<rect x="202.9" y="383.5" width="11.599999999999994" height="12.029999999999973" fill="#eadcf8"/>
<rect x="214.5" y="383.5" width="11.599999999999994" height="12.029999999999973" fill="#dfc4f0"/>
<rect x="156.6" y="395.53" width="11.599999999999994" height="12.03000000000003" fill="#c97ee8"/>
<rect x="168.2" y="395.53" width="11.600000000000023" height="12.03000000000003" fill="#c77fe8"/>
<rect x="179.8" y="395.53" width="11.5" height="12.03000000000003" fill="#bf70e6"/>
<rect x="191.3" y="395.53" width="11.599999999999994" height="12.03000000000003" fill="#ebdcf6"/>
<rect x="202.9" y="395.53" width="11.599999999999994" height="12.03000000000003" fill="#e8daf8"/>
<rect x="214.5" y="395.53" width="11.599999999999994" height="12.03000000000003" fill="#e2c8f2"/>
<rect x="156.6" y="407.56" width="11.599999999999994" height="12.029999999999973" fill="#ca80e8"/>
<rect x="168.2" y="407.56" width="11.600000000000023" height="12.029999999999973" fill="#c57ee6"/>
<rect x="179.8" y="407.56" width="11.5" height="12.029999999999973" fill="#c47ae6"/>
<rect x="191.3" y="407.56" width="11.599999999999994" height="12.029999999999973" fill="#e9d9f6"/>
<rect x="202.9" y="407.56" width="11.599999999999994" height="12.029999999999973" fill="#e6d4f5"/>
<rect x="214.5" y="407.56" width="11.599999999999994" height="12.029999999999973" fill="#c77ee8"/>
<rect x="156.6" y="419.59" width="11.599999999999994" height="12.03000000000003" fill="#c77ee8"/>
<rect x="168.2" y="419.59" width="11.600000000000023" height="12.03000000000003" fill="#c47ae6"/>
<rect x="179.8" y="419.59" width="11.5" height="12.03000000000003" fill="#bd72e4"/>
<rect x="191.3" y="419.59" width="11.599999999999994" height="12.03000000000003" fill="#e2cdf4"/>
<rect x="202.9" y="419.59" width="11.599999999999994" height="12.03000000000003" fill="#dfc6f2"/>
<rect x="214.5" y="419.59" width="11.599999999999994" height="12.03000000000003" fill="#cf8eea"/>
<rect x="156.6" y="431.62" width="11.599999999999994" height="12.029999999999973" fill="#cf85ea"/>
<rect x="168.2" y="431.62" width="11.600000000000023" height="12.029999999999973" fill="#e2c8f2"/>
<rect x="179.8" y="431.62" width="11.5" height="12.029999999999973" fill="#c070e6"/>
<rect x="191.3" y="431.62" width="11.599999999999994" height="12.029999999999973" fill="#e6d2f4"/>
<rect x="202.9" y="431.62" width="11.599999999999994" height="12.029999999999973" fill="#ead9f6"/>
<rect x="214.5" y="431.62" width="11.599999999999994" height="12.029999999999973" fill="#e2cbf2"/>
<rect x="156.6" y="443.65" width="11.599999999999994" height="12.03000000000003" fill="#c87ee8"/>
<rect x="168.2" y="443.65" width="11.600000000000023" height="12.03000000000003" fill="#c67be8"/>
<rect x="179.8" y="443.65" width="11.5" height="12.03000000000003" fill="#c27ae6"/>
<rect x="191.3" y="443.65" width="11.599999999999994" height="12.03000000000003" fill="#e3ccf4"/>
<rect x="202.9" y="443.65" width="11.599999999999994" height="12.03000000000003" fill="#e3cdf4"/>
<rect x="214.5" y="443.65" width="11.599999999999994" height="12.03000000000003" fill="#cf88ea"/>
<rect x="156.6" y="455.68" width="11.599999999999994" height="12.029999999999973" fill="#c77fe8"/>
<rect x="168.2" y="455.68" width="11.600000000000023" height="12.029999999999973" fill="#c47ce8"/>
<rect x="179.8" y="455.68" width="11.5" height="12.029999999999973" fill="#c47de6"/>
<rect x="191.3" y="455.68" width="11.599999999999994" height="12.029999999999973" fill="#dcc0f2"/>
<rect x="202.9" y="455.68" width="11.599999999999994" height="12.029999999999973" fill="#dfc6f2"/>
<rect x="214.5" y="455.68" width="11.599999999999994" height="12.029999999999973" fill="#d490ea"/>
<rect x="156.6" y="467.71" width="11.599999999999994" height="12.03000000000003" fill="#c87ee8"/>
<rect x="168.2" y="467.71" width="11.600000000000023" height="12.03000000000003" fill="#c67ce8"/>
<rect x="179.8" y="467.71" width="11.5" height="12.03000000000003" fill="#c47ce6"/>
<rect x="191.3" y="467.71" width="11.599999999999994" height="12.03000000000003" fill="#ece0f8"/>
<rect x="202.9" y="467.71" width="11.599999999999994" height="12.03000000000003" fill="#e8dcf8"/>
<rect x="214.5" y="467.71" width="11.599999999999994" height="12.03000000000003" fill="#e2cef4"/>
<rect x="156.6" y="479.74" width="11.599999999999994" height="12.029999999999973" fill="#c67ee8"/>
<rect x="168.2" y="479.74" width="11.600000000000023" height="12.029999999999973" fill="#c37ae6"/>
<rect x="179.8" y="479.74" width="11.5" height="12.029999999999973" fill="#c27be6"/>
<rect x="191.3" y="479.74" width="11.599999999999994" height="12.029999999999973" fill="#e4d0f4"/>
<rect x="202.9" y="479.74" width="11.599999999999994" height="12.029999999999973" fill="#e2cef4"/>
<rect x="214.5" y="479.74" width="11.599999999999994" height="12.029999999999973" fill="#cc84ea"/>
<rect x="156.6" y="491.77" width="11.599999999999994" height="12.03000000000003" fill="#d08cea"/>
<rect x="168.2" y="491.77" width="11.600000000000023" height="12.03000000000003" fill="#c884e8"/>
<rect x="179.8" y="491.77" width="11.5" height="12.03000000000003" fill="#c67ee6"/>
<rect x="191.3" y="491.77" width="11.599999999999994" height="12.03000000000003" fill="#ece0f8"/>
<rect x="202.9" y="491.77" width="11.599999999999994" height="12.03000000000003" fill="#e8dcf8"/>
<rect x="214.5" y="491.77" width="11.599999999999994" height="12.03000000000003" fill="#e4d2f4"/>
<line x1="168.2" y1="383.5" x2="168.2" y2="503.8" stroke="#5a3068" stroke-width="0.9" opacity="0.8"/>
<line x1="179.8" y1="383.5" x2="179.8" y2="503.8" stroke="#5a3068" stroke-width="0.9" opacity="0.8"/>
<line x1="191.3" y1="383.5" x2="191.3" y2="503.8" stroke="#5a3068" stroke-width="0.9" opacity="0.8"/>
<line x1="202.9" y1="383.5" x2="202.9" y2="503.8" stroke="#5a3068" stroke-width="0.9" opacity="0.8"/>
<line x1="214.5" y1="383.5" x2="214.5" y2="503.8" stroke="#5a3068" stroke-width="0.9" opacity="0.8"/>
<line x1="156.6" y1="395.53" x2="226.1" y2="395.53" stroke="#5a3068" stroke-width="0.9" opacity="0.8"/>
<line x1="156.6" y1="407.56" x2="226.1" y2="407.56" stroke="#5a3068" stroke-width="0.9" opacity="0.8"/>
<line x1="156.6" y1="419.59" x2="226.1" y2="419.59" stroke="#5a3068" stroke-width="0.9" opacity="0.8"/>
<line x1="156.6" y1="431.62" x2="226.1" y2="431.62" stroke="#5a3068" stroke-width="0.9" opacity="0.8"/>
<line x1="156.6" y1="443.65" x2="226.1" y2="443.65" stroke="#5a3068" stroke-width="0.9" opacity="0.8"/>
<line x1="156.6" y1="455.68" x2="226.1" y2="455.68" stroke="#5a3068" stroke-width="0.9" opacity="0.8"/>
<line x1="156.6" y1="467.71" x2="226.1" y2="467.71" stroke="#5a3068" stroke-width="0.9" opacity="0.8"/>
<line x1="156.6" y1="479.74" x2="226.1" y2="479.74" stroke="#5a3068" stroke-width="0.9" opacity="0.8"/>
<line x1="156.6" y1="491.77" x2="226.1" y2="491.77" stroke="#5a3068" stroke-width="0.9" opacity="0.8"/>
<rect x="156.6" y="383.5" width="69.5" height="120.30000000000001" fill="none" stroke="#2a1a30" stroke-width="1.0"/>
<text x="149.6" y="392.215" font-size="7.6" text-anchor="end" fill="#111" stroke="#111" stroke-width="0.196">Cd14</text>
<line x1="152.4" y1="389.515" x2="156.6" y2="389.515" stroke="#222" stroke-width="1.0"/>
<text x="149.6" y="404.24499999999995" font-size="7.6" text-anchor="end" fill="#111" stroke="#111" stroke-width="0.196">Ccl3</text>
<line x1="152.4" y1="401.54499999999996" x2="156.6" y2="401.54499999999996" stroke="#222" stroke-width="1.0"/>
<text x="149.6" y="416.275" font-size="7.6" text-anchor="end" fill="#111" stroke="#111" stroke-width="0.196">C3</text>
<line x1="152.4" y1="413.575" x2="156.6" y2="413.575" stroke="#222" stroke-width="1.0"/>
<text x="149.6" y="428.305" font-size="7.6" text-anchor="end" fill="#111" stroke="#111" stroke-width="0.196">Tpi1</text>
<line x1="152.4" y1="425.605" x2="156.6" y2="425.605" stroke="#222" stroke-width="1.0"/>
<text x="149.6" y="440.335" font-size="7.6" text-anchor="end" fill="#111" stroke="#111" stroke-width="0.196">Thbs1</text>
<line x1="152.4" y1="437.635" x2="156.6" y2="437.635" stroke="#222" stroke-width="1.0"/>
<text x="149.6" y="452.36499999999995" font-size="7.6" text-anchor="end" fill="#111" stroke="#111" stroke-width="0.196">Ctsb</text>
<line x1="152.4" y1="449.66499999999996" x2="156.6" y2="449.66499999999996" stroke="#222" stroke-width="1.0"/>
<text x="149.6" y="464.395" font-size="7.6" text-anchor="end" fill="#111" stroke="#111" stroke-width="0.196">Mif</text>
<line x1="152.4" y1="461.695" x2="156.6" y2="461.695" stroke="#222" stroke-width="1.0"/>
<text x="149.6" y="476.425" font-size="7.6" text-anchor="end" fill="#111" stroke="#111" stroke-width="0.196">Basp1</text>
<line x1="152.4" y1="473.725" x2="156.6" y2="473.725" stroke="#222" stroke-width="1.0"/>
<text x="149.6" y="488.455" font-size="7.6" text-anchor="end" fill="#111" stroke="#111" stroke-width="0.196">Capg</text>
<line x1="152.4" y1="485.755" x2="156.6" y2="485.755" stroke="#222" stroke-width="1.0"/>
<text x="149.6" y="500.48499999999996" font-size="7.6" text-anchor="end" fill="#111" stroke="#111" stroke-width="0.196">Aprt</text>
<line x1="152.4" y1="497.78499999999997" x2="156.6" y2="497.78499999999997" stroke="#222" stroke-width="1.0"/>
<line x1="162.39999999999998" y1="503.8" x2="162.39999999999998" y2="506.6" stroke="#222" stroke-width="0.8"/>
<text transform="translate(165.39999999999998,512.1) rotate(-45)" font-size="7.2" text-anchor="end">EV1</text>
<line x1="174.0" y1="503.8" x2="174.0" y2="506.6" stroke="#222" stroke-width="0.8"/>
<text transform="translate(177.0,512.1) rotate(-45)" font-size="7.2" text-anchor="end">EV2</text>
<line x1="185.55" y1="503.8" x2="185.55" y2="506.6" stroke="#222" stroke-width="0.8"/>
<text transform="translate(188.55,512.1) rotate(-45)" font-size="7.2" text-anchor="end">EV3</text>
<line x1="197.10000000000002" y1="503.8" x2="197.10000000000002" y2="506.6" stroke="#222" stroke-width="0.8"/>
<text transform="translate(200.10000000000002,512.1) rotate(-45)" font-size="7.2" text-anchor="end">KO1</text>
<line x1="208.7" y1="503.8" x2="208.7" y2="506.6" stroke="#222" stroke-width="0.8"/>
<text transform="translate(211.7,512.1) rotate(-45)" font-size="7.2" text-anchor="end">KO2</text>
<line x1="220.3" y1="503.8" x2="220.3" y2="506.6" stroke="#222" stroke-width="0.8"/>
<text transform="translate(223.3,512.1) rotate(-45)" font-size="7.2" text-anchor="end">KO3</text>
<linearGradient id="cbE" x1="0" y1="0" x2="0" y2="1"><stop offset="0" stop-color="#d890f4"/><stop offset="0.5" stop-color="#9c54da"/><stop offset="1" stop-color="#3e1268"/></linearGradient>
<rect x="231.1" y="384.1" width="4.9" height="23.6" fill="url(#cbE)" stroke="#2a1a38" stroke-width="0.6"/>
<text x="238.0" y="387.9" font-size="7.3" fill="#111" stroke="#111" stroke-width="0.185">1.0</text>
<text x="238.0" y="397.7" font-size="7.3" fill="#111" stroke="#111" stroke-width="0.185">1.5</text>
<text x="238.0" y="406.6" font-size="7.3" fill="#111" stroke="#111" stroke-width="0.185">2.0</text>
<text x="258.3" y="375.5" font-size="10.0" font-weight="bold" fill="#000" stroke="#000" stroke-width="0.200">F</text>
<radialGradient id="tcg" cx="0.5" cy="0.5" r="0.5"><stop offset="0" stop-color="#e4f4e4"/><stop offset="0.8" stop-color="#d8f0d8"/><stop offset="1" stop-color="#eef8ee"/></radialGradient>
<circle cx="286.6" cy="403.6" r="7.0" fill="url(#tcg)" stroke="#d4ecd4" stroke-width="0.5"/>
<circle cx="284.40000000000003" cy="401.20000000000005" r="1.4" fill="#8fd49a" opacity="0.8"/>
<circle cx="288.40000000000003" cy="401.0" r="1.3" fill="#8fd49a" opacity="0.8"/>
<circle cx="289.20000000000005" cy="404.8" r="1.4" fill="#8fd49a" opacity="0.8"/>
<circle cx="285.40000000000003" cy="405.20000000000005" r="1.5" fill="#8fd49a" opacity="0.8"/>
<circle cx="287.20000000000005" cy="407.6" r="1.1" fill="#8fd49a" opacity="0.8"/>
<circle cx="283.20000000000005" cy="404.40000000000003" r="1.0" fill="#8fd49a" opacity="0.8"/>
<text x="295" y="402.7" font-size="7.7" fill="#111" stroke="#111" stroke-width="0.200">CD3<tspan dy="-2.8" font-size="0.7em">+</tspan></text>
<text x="295.4" y="409.7" font-size="7.7" fill="#111" stroke="#111" stroke-width="0.200">T cell</text>
<g transform="translate(266.7,418.6) scale(0.74)"><path d="M41,7 C46,8 52,11 50,13.5 C48,16 36,16.5 23,16.3" fill="none" stroke="#d0a0a0" stroke-width="1.3"/><path d="M0,0 C1,-2 4,-3.5 8,-4 L10.5,-6.2 L12.5,-5.6 L13,-4.2 C18,-4.8 28,-4.6 34,-2 C40,0 43,4 42,7.5 C41,10 36,11.5 30,11.2 L26,11.4 L27.5,15.5 L24,16 L22.5,11.8 C18,12 12,11.5 9,10.5 L7.5,12.8 L5,12.8 L6.5,9.2 C4,7.5 1.5,4.5 0.5,2.5 C-0.3,1.5 -0.3,0.6 0,0 Z" fill="#646262"/><circle cx="4.2" cy="-0.6" r="0.7" fill="#111"/><ellipse cx="13.3" cy="-1.2" rx="1.6" ry="1.9" fill="#9a9696"/><path d="M20,-1 C23,-3 30,-3.2 32,-1.5 C33,1 30,5 27,7 C24,8 21,6.5 20,4 Z" fill="#9a2630"/></g>
<text x="283" y="438.6" font-size="7.7" text-anchor="middle" fill="#111" stroke="#111" stroke-width="0.200">Non-TB</text>
<radialGradient id="pmg" cx="0.5" cy="0.5" r="0.5"><stop offset="0" stop-color="#dcdcf8"/><stop offset="0.8" stop-color="#d8dcf6"/><stop offset="1" stop-color="#eef0fc"/></radialGradient>
<circle cx="286.6" cy="450.4" r="7.0" fill="url(#pmg)" stroke="#dadef6" stroke-width="0.5"/>
<circle cx="284.5" cy="448.29999999999995" r="1.9" fill="#8c96de" opacity="0.85"/>
<circle cx="288.70000000000005" cy="448.29999999999995" r="1.9" fill="#8c96de" opacity="0.85"/>
<circle cx="284.5" cy="452.5" r="1.9" fill="#8c96de" opacity="0.85"/>
<circle cx="288.70000000000005" cy="452.5" r="1.9" fill="#8c96de" opacity="0.85"/>
<text x="305" y="449.8" font-size="7.7" text-anchor="middle" fill="#111" stroke="#111" stroke-width="0.200">PMN</text>
<text x="305" y="457.1" font-size="7.7" text-anchor="middle" fill="#111" stroke="#111" stroke-width="0.200">MDSC</text>
<g transform="translate(269.3,461.9) scale(0.82)"><path d="M41,7 C46,8 52,11 50,13.5 C48,16 36,16.5 23,16.3" fill="none" stroke="#d0a0a0" stroke-width="1.3"/><path d="M0,0 C1,-2 4,-3.5 8,-4 L10.5,-6.2 L12.5,-5.6 L13,-4.2 C18,-4.8 28,-4.6 34,-2 C40,0 43,4 42,7.5 C41,10 36,11.5 30,11.2 L26,11.4 L27.5,15.5 L24,16 L22.5,11.8 C18,12 12,11.5 9,10.5 L7.5,12.8 L5,12.8 L6.5,9.2 C4,7.5 1.5,4.5 0.5,2.5 C-0.3,1.5 -0.3,0.6 0,0 Z" fill="#5a5856"/><circle cx="4.2" cy="-0.6" r="0.7" fill="#111"/><ellipse cx="13.3" cy="-1.2" rx="1.6" ry="1.9" fill="#9a9696"/><path d="M20,-1 C23,-3 30,-3.2 32,-1.5 C33,1 30,5 27,7 C24,8 21,6.5 20,4 Z" fill="#a88a48"/></g>
<text x="283.6" y="487" font-size="7.7" text-anchor="middle" fill="#111" stroke="#111" stroke-width="0.200">KPC<tspan dy="-2.6" font-size="0.7em">EV</tspan><tspan dy="2.6"> </tspan><tspan dx="-1.6">/Cxcl1</tspan><tspan dy="-2.6" font-size="0.7em">KO</tspan><tspan dy="2.6"> </tspan><tspan dx="-1.6">-TB</tspan></text>
<path d="M314,410.6 L317,410.6 L317,475.4 L313.8,475.4" fill="none" stroke="#555" stroke-width="0.8"/>
<text x="326.6" y="429.2" font-size="7.7" text-anchor="middle" fill="#111" stroke="#111" stroke-width="0.200">CD3</text>
<text x="326.6" y="436.5" font-size="7.7" text-anchor="middle" fill="#111" stroke="#111" stroke-width="0.200">CD28</text>
<line x1="321.5" y1="443" x2="329.44" y2="443" stroke="#222" stroke-width="0.8"/>
<path d="M331,443 L328.4,441.57 L328.4,444.43 Z" fill="#222"/>
<circle cx="346.5" cy="417.7" r="11.3" fill="#f6caca" stroke="#e4a4a4" stroke-width="0.7"/>
<text x="346.5" y="417.3" font-size="5.9" text-anchor="middle" fill="#2a2a2a" stroke="#2a2a2a" stroke-width="0.134">T cell</text>
<text x="346.5" y="423.3" font-size="5.9" text-anchor="middle" fill="#2a2a2a" stroke="#2a2a2a" stroke-width="0.134">alone</text>
<circle cx="346.5" cy="443.1" r="11.3" fill="#f6caca" stroke="#e4a4a4" stroke-width="0.7"/>
<text x="346.5" y="442.70000000000005" font-size="5.9" text-anchor="middle" fill="#2a2a2a" stroke="#2a2a2a" stroke-width="0.134">T cell +</text>
<text x="346.5" y="448.70000000000005" font-size="5.9" text-anchor="middle" fill="#2a2a2a" stroke="#2a2a2a" stroke-width="0.134">MDSC<tspan dy="-1.9" font-size="0.7em">EV</tspan></text>
<circle cx="346.5" cy="468.5" r="11.3" fill="#f6caca" stroke="#e4a4a4" stroke-width="0.7"/>
<text x="346.5" y="468.1" font-size="5.9" text-anchor="middle" fill="#2a2a2a" stroke="#2a2a2a" stroke-width="0.134">T cell +</text>
<text x="346.5" y="474.1" font-size="5.9" text-anchor="middle" fill="#2a2a2a" stroke="#2a2a2a" stroke-width="0.134">MDSC<tspan dy="-1.9" font-size="0.7em">KO</tspan></text>
<text x="366.3" y="439.6" font-size="7.7" text-anchor="middle" fill="#111" stroke="#111" stroke-width="0.200">24 h</text>
<line x1="360.8" y1="443" x2="370.04" y2="443" stroke="#222" stroke-width="0.8"/>
<path d="M371.6,443 L369.0,441.57 L369.0,444.43 Z" fill="#222"/>
<rect x="375" y="428.5" width="20.8" height="14.4" fill="#fcf0f0" stroke="#e0d4d4" stroke-width="0.5"/>
<line x1="375" y1="429" x2="395.8" y2="429" stroke="#c8c8c8" stroke-width="0.8"/>
<path d="M384.5,441.5 L385,437 L383,434 M385,437 L387.5,434 L387,432.5" fill="none" stroke="#b87048" stroke-width="0.9"/>
<circle cx="382.5" cy="432.5" r="0.5" fill="#444"/>
<text x="386.8" y="450.4" font-size="7.7" text-anchor="middle" fill="#111" stroke="#111" stroke-width="0.200">IFNγ</text>
<text x="386.8" y="457.9" font-size="7.7" text-anchor="middle" fill="#111" stroke="#111" stroke-width="0.200">secretion</text>
<line x1="440.8" y1="400.9" x2="440.8" y2="474.9" stroke="#222" stroke-width="0.8"/>
<line x1="440.8" y1="474.9" x2="517.5" y2="474.9" stroke="#222" stroke-width="0.8"/>
<line x1="438.8" y1="474.9" x2="440.8" y2="474.9" stroke="#222" stroke-width="0.8"/>
<text x="437.2" y="477.5" font-size="7.7" text-anchor="end" fill="#111" stroke="#111" stroke-width="0.200">0</text>
<line x1="438.8" y1="456.4" x2="440.8" y2="456.4" stroke="#222" stroke-width="0.8"/>
<text x="437.2" y="459.0" font-size="7.7" text-anchor="end" fill="#111" stroke="#111" stroke-width="0.200">500</text>
<line x1="438.8" y1="437.9" x2="440.8" y2="437.9" stroke="#222" stroke-width="0.8"/>
<text x="437.2" y="440.5" font-size="7.7" text-anchor="end" fill="#111" stroke="#111" stroke-width="0.200">1,000</text>
<line x1="438.8" y1="419.4" x2="440.8" y2="419.4" stroke="#222" stroke-width="0.8"/>
<text x="437.2" y="422.0" font-size="7.7" text-anchor="end" fill="#111" stroke="#111" stroke-width="0.200">1,500</text>
<line x1="438.8" y1="400.9" x2="440.8" y2="400.9" stroke="#222" stroke-width="0.8"/>
<text x="437.2" y="403.5" font-size="7.7" text-anchor="end" fill="#111" stroke="#111" stroke-width="0.200">2,000</text>
<text transform="translate(414.6,438) rotate(-90)" font-size="7.7" text-anchor="middle">[IFNγ] pg/mL</text>
<line x1="457.7" y1="424.395" x2="457.7" y2="416.44" stroke="#444" stroke-width="0.7"/>
<line x1="455.7" y1="416.44" x2="459.7" y2="416.44" stroke="#444" stroke-width="0.7"/>
<rect x="448.9" y="424.395" width="17.600000000000023" height="50.504999999999995" fill="#d4d4d4" stroke="#2a2a2a" stroke-width="0.9"/>
<line x1="457.7" y1="474.9" x2="457.7" y2="476.9" stroke="#222" stroke-width="0.8"/>
<rect x="470.5" y="443.45" width="17.19999999999999" height="31.44999999999999" fill="#d792ea" stroke="#2a2a2a" stroke-width="0.9"/>
<line x1="479.1" y1="474.9" x2="479.1" y2="476.9" stroke="#222" stroke-width="0.8"/>
<line x1="500.29999999999995" y1="426.42999999999995" x2="500.29999999999995" y2="423.46999999999997" stroke="#444" stroke-width="0.7"/>
<line x1="498.29999999999995" y1="423.46999999999997" x2="502.29999999999995" y2="423.46999999999997" stroke="#444" stroke-width="0.7"/>
<rect x="491.7" y="426.42999999999995" width="17.19999999999999" height="48.47000000000003" fill="#dcccf6" stroke="#2a2a2a" stroke-width="0.9"/>
<line x1="500.29999999999995" y1="474.9" x2="500.29999999999995" y2="476.9" stroke="#222" stroke-width="0.8"/>
<circle cx="450.7" cy="424.58" r="1.5" fill="none" stroke="#222" stroke-width="0.6"/>
<circle cx="454.7" cy="424.395" r="1.5" fill="none" stroke="#222" stroke-width="0.6"/>
<circle cx="459.7" cy="424.21" r="1.5" fill="none" stroke="#222" stroke-width="0.6"/>
<circle cx="464.7" cy="424.58" r="1.5" fill="none" stroke="#222" stroke-width="0.6"/>
<circle cx="457.7" cy="416.44" r="1.5" fill="none" stroke="#222" stroke-width="0.6"/>
<circle cx="473.1" cy="443.45" r="1.5" fill="none" stroke="#222" stroke-width="0.6"/>
<circle cx="477.1" cy="443.08" r="1.5" fill="none" stroke="#222" stroke-width="0.6"/>
<circle cx="481.1" cy="442.895" r="1.5" fill="none" stroke="#222" stroke-width="0.6"/>
<circle cx="485.1" cy="443.265" r="1.5" fill="none" stroke="#222" stroke-width="0.6"/>
<circle cx="495.29999999999995" cy="426.05999999999995" r="1.5" fill="none" stroke="#222" stroke-width="0.6"/>
<circle cx="499.29999999999995" cy="427.53999999999996" r="1.5" fill="none" stroke="#222" stroke-width="0.6"/>
<circle cx="503.29999999999995" cy="427.16999999999996" r="1.5" fill="none" stroke="#222" stroke-width="0.6"/>
<circle cx="506.29999999999995" cy="425.69" r="1.5" fill="none" stroke="#222" stroke-width="0.6"/>
<circle cx="500.29999999999995" cy="424.95" r="1.5" fill="none" stroke="#222" stroke-width="0.6"/>
<circle cx="501.29999999999995" cy="422.35999999999996" r="1.5" fill="none" stroke="#222" stroke-width="0.6"/>
<path d="M457,400.3 L457,396.2 L499.8,396.2 L499.8,400.3" fill="none" stroke="#333" stroke-width="0.7"/>
<text x="479.4" y="393.1" font-size="7.6" text-anchor="middle" fill="#111" stroke="#111" stroke-width="0.196">ns</text>
<path d="M457,412.3 L457,408.9 L478.6,408.9 L478.6,435.5" fill="none" stroke="#333" stroke-width="0.7"/>
<path d="M481.2,435.5 L481.2,408.9 L499.8,408.9 L499.8,414.3" fill="none" stroke="#333" stroke-width="0.7"/>
<text x="467.5" y="406.7" font-size="7.6" text-anchor="middle" fill="#111" stroke="#111" stroke-width="0.196">0.002</text>
<text x="492.5" y="406.7" font-size="7.6" text-anchor="middle" fill="#111" stroke="#111" stroke-width="0.196">0.0004</text>
<text x="444.4" y="490" font-size="7.6" text-anchor="end" fill="#111" stroke="#111" stroke-width="0.196">T cell</text>
<text x="443.8" y="502.4" font-size="7.6" text-anchor="end" fill="#111" stroke="#111" stroke-width="0.196">PMN-MDSC KPC<tspan dy="-2.8" font-size="0.7em">EV</tspan></text>
<text x="443.8" y="513.7" font-size="7.6" text-anchor="end" fill="#111" stroke="#111" stroke-width="0.196">PMN-MDSC KPC-<tspan font-style="italic">Cxcl1</tspan><tspan dy="-2.8" font-size="0.7em">KO</tspan></text>
<text x="457" y="489.5" font-size="7.6" text-anchor="middle" fill="#111" stroke="#111" stroke-width="0.196">+</text>
<text x="457" y="501.5" font-size="7.6" text-anchor="middle" fill="#111" stroke="#111" stroke-width="0.196">–</text>
<text x="457" y="512.8" font-size="7.6" text-anchor="middle" fill="#111" stroke="#111" stroke-width="0.196">–</text>
<text x="478.8" y="489.5" font-size="7.6" text-anchor="middle" fill="#111" stroke="#111" stroke-width="0.196">+</text>
<text x="478.8" y="501.5" font-size="7.6" text-anchor="middle" fill="#111" stroke="#111" stroke-width="0.196">+</text>
<text x="478.8" y="512.8" font-size="7.6" text-anchor="middle" fill="#111" stroke="#111" stroke-width="0.196">–</text>
<text x="500.2" y="489.5" font-size="7.6" text-anchor="middle" fill="#111" stroke="#111" stroke-width="0.196">+</text>
<text x="500.2" y="501.5" font-size="7.6" text-anchor="middle" fill="#111" stroke="#111" stroke-width="0.196">–</text>
<text x="500.2" y="512.8" font-size="7.6" text-anchor="middle" fill="#111" stroke="#111" stroke-width="0.196">+</text>
</svg>
</body></html>
